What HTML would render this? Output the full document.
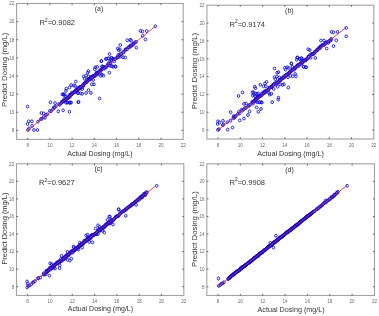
<!DOCTYPE html>
<html><head><meta charset="utf-8"><style>
html,body{margin:0;padding:0;background:#fff;}
svg{display:block;filter:blur(0.3px);}
.lab{font-family:"Liberation Sans",sans-serif;font-size:7px;fill:#333;}
.r2{font-size:7.5px;}
.tk{font-family:"Liberation Sans",sans-serif;font-size:4.6px;fill:#6a6a6a;}
</style></head><body>
<svg width="379" height="316" viewBox="0 0 379 316">
<rect width="379" height="316" fill="#fff"/>
<rect x="16.6" y="3.5" width="166.60" height="135.90" fill="none" stroke="#a2a2a2" stroke-width="1.1"/>
<path d="M27.71 139.4v-1.6M27.71 3.5v1.6M16.6 130.34h1.6M183.2 130.34h-1.6M49.92 139.4v-1.6M49.92 3.5v1.6M16.6 112.22h1.6M183.2 112.22h-1.6M72.13 139.4v-1.6M72.13 3.5v1.6M16.6 94.10h1.6M183.2 94.10h-1.6M94.35 139.4v-1.6M94.35 3.5v1.6M16.6 75.98h1.6M183.2 75.98h-1.6M116.56 139.4v-1.6M116.56 3.5v1.6M16.6 57.86h1.6M183.2 57.86h-1.6M138.77 139.4v-1.6M138.77 3.5v1.6M16.6 39.74h1.6M183.2 39.74h-1.6M160.99 139.4v-1.6M160.99 3.5v1.6M16.6 21.62h1.6M183.2 21.62h-1.6" stroke="#555" stroke-width="0.9" fill="none"/>
<text x="27.71" y="147.00" class="tk" text-anchor="middle">8</text>
<text x="14.30" y="132.14" class="tk" text-anchor="end">8</text>
<text x="49.92" y="147.00" class="tk" text-anchor="middle">10</text>
<text x="14.30" y="114.02" class="tk" text-anchor="end">10</text>
<text x="72.13" y="147.00" class="tk" text-anchor="middle">12</text>
<text x="14.30" y="95.90" class="tk" text-anchor="end">12</text>
<text x="94.35" y="147.00" class="tk" text-anchor="middle">14</text>
<text x="14.30" y="77.78" class="tk" text-anchor="end">14</text>
<text x="116.56" y="147.00" class="tk" text-anchor="middle">16</text>
<text x="14.30" y="59.66" class="tk" text-anchor="end">16</text>
<text x="138.77" y="147.00" class="tk" text-anchor="middle">18</text>
<text x="14.30" y="41.54" class="tk" text-anchor="end">18</text>
<text x="160.99" y="147.00" class="tk" text-anchor="middle">20</text>
<text x="14.30" y="23.42" class="tk" text-anchor="end">20</text>
<text x="183.20" y="147.00" class="tk" text-anchor="middle">22</text>
<text x="14.30" y="5.30" class="tk" text-anchor="end">22</text>
<path d="M26.30 106.60a1.3 1.45 0 1 0 2.6 0a1.3 1.45 0 1 0 -2.6 0M27.40 121.30a1.3 1.45 0 1 0 2.6 0a1.3 1.45 0 1 0 -2.6 0M30.60 121.30a1.3 1.45 0 1 0 2.6 0a1.3 1.45 0 1 0 -2.6 0M26.30 124.00a1.3 1.45 0 1 0 2.6 0a1.3 1.45 0 1 0 -2.6 0M26.60 130.00a1.3 1.45 0 1 0 2.6 0a1.3 1.45 0 1 0 -2.6 0M32.60 130.00a1.3 1.45 0 1 0 2.6 0a1.3 1.45 0 1 0 -2.6 0M36.10 130.00a1.3 1.45 0 1 0 2.6 0a1.3 1.45 0 1 0 -2.6 0M40.10 113.00a1.3 1.45 0 1 0 2.6 0a1.3 1.45 0 1 0 -2.6 0M42.40 113.40a1.3 1.45 0 1 0 2.6 0a1.3 1.45 0 1 0 -2.6 0M43.70 117.70a1.3 1.45 0 1 0 2.6 0a1.3 1.45 0 1 0 -2.6 0M49.10 102.30a1.3 1.45 0 1 0 2.6 0a1.3 1.45 0 1 0 -2.6 0M53.80 103.10a1.3 1.45 0 1 0 2.6 0a1.3 1.45 0 1 0 -2.6 0M51.90 109.00a1.3 1.45 0 1 0 2.6 0a1.3 1.45 0 1 0 -2.6 0M57.00 111.40a1.3 1.45 0 1 0 2.6 0a1.3 1.45 0 1 0 -2.6 0M61.80 110.30a1.3 1.45 0 1 0 2.6 0a1.3 1.45 0 1 0 -2.6 0M68.10 111.80a1.3 1.45 0 1 0 2.6 0a1.3 1.45 0 1 0 -2.6 0M61.10 94.40a1.3 1.45 0 1 0 2.6 0a1.3 1.45 0 1 0 -2.6 0M62.20 94.70a1.3 1.45 0 1 0 2.6 0a1.3 1.45 0 1 0 -2.6 0M64.60 102.70a1.3 1.45 0 1 0 2.6 0a1.3 1.45 0 1 0 -2.6 0M66.20 102.70a1.3 1.45 0 1 0 2.6 0a1.3 1.45 0 1 0 -2.6 0M68.10 102.70a1.3 1.45 0 1 0 2.6 0a1.3 1.45 0 1 0 -2.6 0M69.40 102.70a1.3 1.45 0 1 0 2.6 0a1.3 1.45 0 1 0 -2.6 0M77.30 101.90a1.3 1.45 0 1 0 2.6 0a1.3 1.45 0 1 0 -2.6 0M64.60 90.80a1.3 1.45 0 1 0 2.6 0a1.3 1.45 0 1 0 -2.6 0M74.10 91.60a1.3 1.45 0 1 0 2.6 0a1.3 1.45 0 1 0 -2.6 0M76.50 93.20a1.3 1.45 0 1 0 2.6 0a1.3 1.45 0 1 0 -2.6 0M100.20 61.00a1.3 1.45 0 1 0 2.6 0a1.3 1.45 0 1 0 -2.6 0M104.60 59.00a1.3 1.45 0 1 0 2.6 0a1.3 1.45 0 1 0 -2.6 0M107.00 58.50a1.3 1.45 0 1 0 2.6 0a1.3 1.45 0 1 0 -2.6 0M110.10 57.80a1.3 1.45 0 1 0 2.6 0a1.3 1.45 0 1 0 -2.6 0M110.90 66.40a1.3 1.45 0 1 0 2.6 0a1.3 1.45 0 1 0 -2.6 0M114.10 66.40a1.3 1.45 0 1 0 2.6 0a1.3 1.45 0 1 0 -2.6 0M108.10 72.70a1.3 1.45 0 1 0 2.6 0a1.3 1.45 0 1 0 -2.6 0M100.70 66.40a1.3 1.45 0 1 0 2.6 0a1.3 1.45 0 1 0 -2.6 0M93.80 67.30a1.3 1.45 0 1 0 2.6 0a1.3 1.45 0 1 0 -2.6 0M95.90 66.90a1.3 1.45 0 1 0 2.6 0a1.3 1.45 0 1 0 -2.6 0M93.50 69.20a1.3 1.45 0 1 0 2.6 0a1.3 1.45 0 1 0 -2.6 0M87.20 71.10a1.3 1.45 0 1 0 2.6 0a1.3 1.45 0 1 0 -2.6 0M86.40 72.70a1.3 1.45 0 1 0 2.6 0a1.3 1.45 0 1 0 -2.6 0M100.70 74.80a1.3 1.45 0 1 0 2.6 0a1.3 1.45 0 1 0 -2.6 0M102.20 75.60a1.3 1.45 0 1 0 2.6 0a1.3 1.45 0 1 0 -2.6 0M99.50 75.90a1.3 1.45 0 1 0 2.6 0a1.3 1.45 0 1 0 -2.6 0M82.40 76.40a1.3 1.45 0 1 0 2.6 0a1.3 1.45 0 1 0 -2.6 0M84.80 75.60a1.3 1.45 0 1 0 2.6 0a1.3 1.45 0 1 0 -2.6 0M87.20 76.40a1.3 1.45 0 1 0 2.6 0a1.3 1.45 0 1 0 -2.6 0M83.20 78.70a1.3 1.45 0 1 0 2.6 0a1.3 1.45 0 1 0 -2.6 0M85.60 79.50a1.3 1.45 0 1 0 2.6 0a1.3 1.45 0 1 0 -2.6 0M91.90 80.00a1.3 1.45 0 1 0 2.6 0a1.3 1.45 0 1 0 -2.6 0M74.50 81.60a1.3 1.45 0 1 0 2.6 0a1.3 1.45 0 1 0 -2.6 0M90.40 84.30a1.3 1.45 0 1 0 2.6 0a1.3 1.45 0 1 0 -2.6 0M92.70 84.30a1.3 1.45 0 1 0 2.6 0a1.3 1.45 0 1 0 -2.6 0M69.80 85.10a1.3 1.45 0 1 0 2.6 0a1.3 1.45 0 1 0 -2.6 0M72.20 85.40a1.3 1.45 0 1 0 2.6 0a1.3 1.45 0 1 0 -2.6 0M73.70 85.90a1.3 1.45 0 1 0 2.6 0a1.3 1.45 0 1 0 -2.6 0M65.00 88.70a1.3 1.45 0 1 0 2.6 0a1.3 1.45 0 1 0 -2.6 0M68.20 87.50a1.3 1.45 0 1 0 2.6 0a1.3 1.45 0 1 0 -2.6 0M79.30 87.50a1.3 1.45 0 1 0 2.6 0a1.3 1.45 0 1 0 -2.6 0M80.90 89.00a1.3 1.45 0 1 0 2.6 0a1.3 1.45 0 1 0 -2.6 0M87.20 90.10a1.3 1.45 0 1 0 2.6 0a1.3 1.45 0 1 0 -2.6 0M89.60 93.00a1.3 1.45 0 1 0 2.6 0a1.3 1.45 0 1 0 -2.6 0M84.80 93.00a1.3 1.45 0 1 0 2.6 0a1.3 1.45 0 1 0 -2.6 0M76.90 93.00a1.3 1.45 0 1 0 2.6 0a1.3 1.45 0 1 0 -2.6 0M79.30 93.30a1.3 1.45 0 1 0 2.6 0a1.3 1.45 0 1 0 -2.6 0M80.90 93.80a1.3 1.45 0 1 0 2.6 0a1.3 1.45 0 1 0 -2.6 0M61.90 94.30a1.3 1.45 0 1 0 2.6 0a1.3 1.45 0 1 0 -2.6 0M63.40 94.60a1.3 1.45 0 1 0 2.6 0a1.3 1.45 0 1 0 -2.6 0M98.30 98.50a1.3 1.45 0 1 0 2.6 0a1.3 1.45 0 1 0 -2.6 0M76.90 102.20a1.3 1.45 0 1 0 2.6 0a1.3 1.45 0 1 0 -2.6 0M65.80 102.20a1.3 1.45 0 1 0 2.6 0a1.3 1.45 0 1 0 -2.6 0M68.20 102.50a1.3 1.45 0 1 0 2.6 0a1.3 1.45 0 1 0 -2.6 0M69.80 102.50a1.3 1.45 0 1 0 2.6 0a1.3 1.45 0 1 0 -2.6 0M154.10 26.30a1.3 1.45 0 1 0 2.6 0a1.3 1.45 0 1 0 -2.6 0M139.10 30.80a1.3 1.45 0 1 0 2.6 0a1.3 1.45 0 1 0 -2.6 0M141.10 31.40a1.3 1.45 0 1 0 2.6 0a1.3 1.45 0 1 0 -2.6 0M145.40 31.10a1.3 1.45 0 1 0 2.6 0a1.3 1.45 0 1 0 -2.6 0M141.40 35.80a1.3 1.45 0 1 0 2.6 0a1.3 1.45 0 1 0 -2.6 0M144.10 39.50a1.3 1.45 0 1 0 2.6 0a1.3 1.45 0 1 0 -2.6 0M125.90 40.30a1.3 1.45 0 1 0 2.6 0a1.3 1.45 0 1 0 -2.6 0M128.80 39.80a1.3 1.45 0 1 0 2.6 0a1.3 1.45 0 1 0 -2.6 0M129.90 40.60a1.3 1.45 0 1 0 2.6 0a1.3 1.45 0 1 0 -2.6 0M119.00 45.00a1.3 1.45 0 1 0 2.6 0a1.3 1.45 0 1 0 -2.6 0M129.60 45.30a1.3 1.45 0 1 0 2.6 0a1.3 1.45 0 1 0 -2.6 0M131.90 43.70a1.3 1.45 0 1 0 2.6 0a1.3 1.45 0 1 0 -2.6 0M128.80 46.60a1.3 1.45 0 1 0 2.6 0a1.3 1.45 0 1 0 -2.6 0M135.10 47.70a1.3 1.45 0 1 0 2.6 0a1.3 1.45 0 1 0 -2.6 0M116.40 48.50a1.3 1.45 0 1 0 2.6 0a1.3 1.45 0 1 0 -2.6 0M118.50 49.30a1.3 1.45 0 1 0 2.6 0a1.3 1.45 0 1 0 -2.6 0M117.40 50.10a1.3 1.45 0 1 0 2.6 0a1.3 1.45 0 1 0 -2.6 0M124.00 50.10a1.3 1.45 0 1 0 2.6 0a1.3 1.45 0 1 0 -2.6 0M108.20 54.00a1.3 1.45 0 1 0 2.6 0a1.3 1.45 0 1 0 -2.6 0M119.30 56.40a1.3 1.45 0 1 0 2.6 0a1.3 1.45 0 1 0 -2.6 0M121.70 57.20a1.3 1.45 0 1 0 2.6 0a1.3 1.45 0 1 0 -2.6 0M124.00 57.50a1.3 1.45 0 1 0 2.6 0a1.3 1.45 0 1 0 -2.6 0M105.00 58.80a1.3 1.45 0 1 0 2.6 0a1.3 1.45 0 1 0 -2.6 0M107.40 58.30a1.3 1.45 0 1 0 2.6 0a1.3 1.45 0 1 0 -2.6 0M110.60 58.00a1.3 1.45 0 1 0 2.6 0a1.3 1.45 0 1 0 -2.6 0M100.00 61.20a1.3 1.45 0 1 0 2.6 0a1.3 1.45 0 1 0 -2.6 0M109.80 65.90a1.3 1.45 0 1 0 2.6 0a1.3 1.45 0 1 0 -2.6 0M112.20 66.70a1.3 1.45 0 1 0 2.6 0a1.3 1.45 0 1 0 -2.6 0M114.50 66.70a1.3 1.45 0 1 0 2.6 0a1.3 1.45 0 1 0 -2.6 0M101.10 66.70a1.3 1.45 0 1 0 2.6 0a1.3 1.45 0 1 0 -2.6 0M27.73 128.52a1.3 1.45 0 1 0 2.6 0a1.3 1.45 0 1 0 -2.6 0M30.77 125.88a1.3 1.45 0 1 0 2.6 0a1.3 1.45 0 1 0 -2.6 0M36.73 121.66a1.3 1.45 0 1 0 2.6 0a1.3 1.45 0 1 0 -2.6 0M39.52 119.10a1.3 1.45 0 1 0 2.6 0a1.3 1.45 0 1 0 -2.6 0M40.45 118.78a1.3 1.45 0 1 0 2.6 0a1.3 1.45 0 1 0 -2.6 0M42.30 116.90a1.3 1.45 0 1 0 2.6 0a1.3 1.45 0 1 0 -2.6 0M44.65 114.93a1.3 1.45 0 1 0 2.6 0a1.3 1.45 0 1 0 -2.6 0M46.05 114.28a1.3 1.45 0 1 0 2.6 0a1.3 1.45 0 1 0 -2.6 0M48.52 111.04a1.3 1.45 0 1 0 2.6 0a1.3 1.45 0 1 0 -2.6 0M49.87 111.14a1.3 1.45 0 1 0 2.6 0a1.3 1.45 0 1 0 -2.6 0M52.65 107.20a1.3 1.45 0 1 0 2.6 0a1.3 1.45 0 1 0 -2.6 0M53.20 107.71a1.3 1.45 0 1 0 2.6 0a1.3 1.45 0 1 0 -2.6 0M54.70 106.43a1.3 1.45 0 1 0 2.6 0a1.3 1.45 0 1 0 -2.6 0M57.64 104.08a1.3 1.45 0 1 0 2.6 0a1.3 1.45 0 1 0 -2.6 0M58.29 104.87a1.3 1.45 0 1 0 2.6 0a1.3 1.45 0 1 0 -2.6 0M59.91 103.15a1.3 1.45 0 1 0 2.6 0a1.3 1.45 0 1 0 -2.6 0M60.50 101.93a1.3 1.45 0 1 0 2.6 0a1.3 1.45 0 1 0 -2.6 0M60.83 101.80a1.3 1.45 0 1 0 2.6 0a1.3 1.45 0 1 0 -2.6 0M61.57 101.86a1.3 1.45 0 1 0 2.6 0a1.3 1.45 0 1 0 -2.6 0M62.02 100.65a1.3 1.45 0 1 0 2.6 0a1.3 1.45 0 1 0 -2.6 0M62.45 100.97a1.3 1.45 0 1 0 2.6 0a1.3 1.45 0 1 0 -2.6 0M63.07 98.84a1.3 1.45 0 1 0 2.6 0a1.3 1.45 0 1 0 -2.6 0M63.35 100.63a1.3 1.45 0 1 0 2.6 0a1.3 1.45 0 1 0 -2.6 0M64.16 99.58a1.3 1.45 0 1 0 2.6 0a1.3 1.45 0 1 0 -2.6 0M64.59 99.31a1.3 1.45 0 1 0 2.6 0a1.3 1.45 0 1 0 -2.6 0M64.78 96.70a1.3 1.45 0 1 0 2.6 0a1.3 1.45 0 1 0 -2.6 0M65.43 98.12a1.3 1.45 0 1 0 2.6 0a1.3 1.45 0 1 0 -2.6 0M65.97 98.12a1.3 1.45 0 1 0 2.6 0a1.3 1.45 0 1 0 -2.6 0M66.24 98.09a1.3 1.45 0 1 0 2.6 0a1.3 1.45 0 1 0 -2.6 0M67.01 97.93a1.3 1.45 0 1 0 2.6 0a1.3 1.45 0 1 0 -2.6 0M67.66 96.76a1.3 1.45 0 1 0 2.6 0a1.3 1.45 0 1 0 -2.6 0M68.02 95.00a1.3 1.45 0 1 0 2.6 0a1.3 1.45 0 1 0 -2.6 0M68.51 96.97a1.3 1.45 0 1 0 2.6 0a1.3 1.45 0 1 0 -2.6 0M69.20 94.70a1.3 1.45 0 1 0 2.6 0a1.3 1.45 0 1 0 -2.6 0M69.46 94.99a1.3 1.45 0 1 0 2.6 0a1.3 1.45 0 1 0 -2.6 0M70.07 94.58a1.3 1.45 0 1 0 2.6 0a1.3 1.45 0 1 0 -2.6 0M70.55 92.63a1.3 1.45 0 1 0 2.6 0a1.3 1.45 0 1 0 -2.6 0M70.86 93.77a1.3 1.45 0 1 0 2.6 0a1.3 1.45 0 1 0 -2.6 0M71.41 93.34a1.3 1.45 0 1 0 2.6 0a1.3 1.45 0 1 0 -2.6 0M71.95 92.96a1.3 1.45 0 1 0 2.6 0a1.3 1.45 0 1 0 -2.6 0M72.31 92.35a1.3 1.45 0 1 0 2.6 0a1.3 1.45 0 1 0 -2.6 0M73.11 91.71a1.3 1.45 0 1 0 2.6 0a1.3 1.45 0 1 0 -2.6 0M73.29 91.73a1.3 1.45 0 1 0 2.6 0a1.3 1.45 0 1 0 -2.6 0M74.16 90.31a1.3 1.45 0 1 0 2.6 0a1.3 1.45 0 1 0 -2.6 0M74.26 91.81a1.3 1.45 0 1 0 2.6 0a1.3 1.45 0 1 0 -2.6 0M75.16 89.92a1.3 1.45 0 1 0 2.6 0a1.3 1.45 0 1 0 -2.6 0M75.63 89.44a1.3 1.45 0 1 0 2.6 0a1.3 1.45 0 1 0 -2.6 0M75.93 90.02a1.3 1.45 0 1 0 2.6 0a1.3 1.45 0 1 0 -2.6 0M76.40 87.84a1.3 1.45 0 1 0 2.6 0a1.3 1.45 0 1 0 -2.6 0M76.80 90.09a1.3 1.45 0 1 0 2.6 0a1.3 1.45 0 1 0 -2.6 0M77.31 88.40a1.3 1.45 0 1 0 2.6 0a1.3 1.45 0 1 0 -2.6 0M77.96 87.40a1.3 1.45 0 1 0 2.6 0a1.3 1.45 0 1 0 -2.6 0M78.51 87.48a1.3 1.45 0 1 0 2.6 0a1.3 1.45 0 1 0 -2.6 0M78.93 87.07a1.3 1.45 0 1 0 2.6 0a1.3 1.45 0 1 0 -2.6 0M79.40 88.39a1.3 1.45 0 1 0 2.6 0a1.3 1.45 0 1 0 -2.6 0M80.06 86.93a1.3 1.45 0 1 0 2.6 0a1.3 1.45 0 1 0 -2.6 0M80.48 86.68a1.3 1.45 0 1 0 2.6 0a1.3 1.45 0 1 0 -2.6 0M80.75 86.39a1.3 1.45 0 1 0 2.6 0a1.3 1.45 0 1 0 -2.6 0M81.67 84.62a1.3 1.45 0 1 0 2.6 0a1.3 1.45 0 1 0 -2.6 0M82.12 85.98a1.3 1.45 0 1 0 2.6 0a1.3 1.45 0 1 0 -2.6 0M82.41 84.56a1.3 1.45 0 1 0 2.6 0a1.3 1.45 0 1 0 -2.6 0M83.03 83.58a1.3 1.45 0 1 0 2.6 0a1.3 1.45 0 1 0 -2.6 0M83.25 83.16a1.3 1.45 0 1 0 2.6 0a1.3 1.45 0 1 0 -2.6 0M83.80 82.96a1.3 1.45 0 1 0 2.6 0a1.3 1.45 0 1 0 -2.6 0M84.39 82.67a1.3 1.45 0 1 0 2.6 0a1.3 1.45 0 1 0 -2.6 0M84.79 82.35a1.3 1.45 0 1 0 2.6 0a1.3 1.45 0 1 0 -2.6 0M85.27 82.07a1.3 1.45 0 1 0 2.6 0a1.3 1.45 0 1 0 -2.6 0M86.15 81.12a1.3 1.45 0 1 0 2.6 0a1.3 1.45 0 1 0 -2.6 0M86.52 80.61a1.3 1.45 0 1 0 2.6 0a1.3 1.45 0 1 0 -2.6 0M86.89 80.20a1.3 1.45 0 1 0 2.6 0a1.3 1.45 0 1 0 -2.6 0M87.40 79.22a1.3 1.45 0 1 0 2.6 0a1.3 1.45 0 1 0 -2.6 0M88.21 78.58a1.3 1.45 0 1 0 2.6 0a1.3 1.45 0 1 0 -2.6 0M88.45 79.67a1.3 1.45 0 1 0 2.6 0a1.3 1.45 0 1 0 -2.6 0M88.77 79.08a1.3 1.45 0 1 0 2.6 0a1.3 1.45 0 1 0 -2.6 0M89.39 78.73a1.3 1.45 0 1 0 2.6 0a1.3 1.45 0 1 0 -2.6 0M89.80 76.91a1.3 1.45 0 1 0 2.6 0a1.3 1.45 0 1 0 -2.6 0M90.23 77.07a1.3 1.45 0 1 0 2.6 0a1.3 1.45 0 1 0 -2.6 0M90.79 77.73a1.3 1.45 0 1 0 2.6 0a1.3 1.45 0 1 0 -2.6 0M91.49 76.02a1.3 1.45 0 1 0 2.6 0a1.3 1.45 0 1 0 -2.6 0M92.20 76.16a1.3 1.45 0 1 0 2.6 0a1.3 1.45 0 1 0 -2.6 0M92.65 76.13a1.3 1.45 0 1 0 2.6 0a1.3 1.45 0 1 0 -2.6 0M92.90 76.27a1.3 1.45 0 1 0 2.6 0a1.3 1.45 0 1 0 -2.6 0M93.30 75.29a1.3 1.45 0 1 0 2.6 0a1.3 1.45 0 1 0 -2.6 0M94.10 75.64a1.3 1.45 0 1 0 2.6 0a1.3 1.45 0 1 0 -2.6 0M94.38 74.31a1.3 1.45 0 1 0 2.6 0a1.3 1.45 0 1 0 -2.6 0M95.20 72.55a1.3 1.45 0 1 0 2.6 0a1.3 1.45 0 1 0 -2.6 0M95.64 73.04a1.3 1.45 0 1 0 2.6 0a1.3 1.45 0 1 0 -2.6 0M96.08 74.40a1.3 1.45 0 1 0 2.6 0a1.3 1.45 0 1 0 -2.6 0M96.33 73.62a1.3 1.45 0 1 0 2.6 0a1.3 1.45 0 1 0 -2.6 0M96.73 72.69a1.3 1.45 0 1 0 2.6 0a1.3 1.45 0 1 0 -2.6 0M97.23 72.31a1.3 1.45 0 1 0 2.6 0a1.3 1.45 0 1 0 -2.6 0M98.06 70.98a1.3 1.45 0 1 0 2.6 0a1.3 1.45 0 1 0 -2.6 0M98.69 72.63a1.3 1.45 0 1 0 2.6 0a1.3 1.45 0 1 0 -2.6 0M99.20 70.04a1.3 1.45 0 1 0 2.6 0a1.3 1.45 0 1 0 -2.6 0M99.69 70.54a1.3 1.45 0 1 0 2.6 0a1.3 1.45 0 1 0 -2.6 0M99.89 69.60a1.3 1.45 0 1 0 2.6 0a1.3 1.45 0 1 0 -2.6 0M100.67 69.08a1.3 1.45 0 1 0 2.6 0a1.3 1.45 0 1 0 -2.6 0M102.03 67.20a1.3 1.45 0 1 0 2.6 0a1.3 1.45 0 1 0 -2.6 0M102.78 68.85a1.3 1.45 0 1 0 2.6 0a1.3 1.45 0 1 0 -2.6 0M103.55 66.90a1.3 1.45 0 1 0 2.6 0a1.3 1.45 0 1 0 -2.6 0M103.78 67.82a1.3 1.45 0 1 0 2.6 0a1.3 1.45 0 1 0 -2.6 0M105.13 67.27a1.3 1.45 0 1 0 2.6 0a1.3 1.45 0 1 0 -2.6 0M105.91 65.63a1.3 1.45 0 1 0 2.6 0a1.3 1.45 0 1 0 -2.6 0M106.74 64.38a1.3 1.45 0 1 0 2.6 0a1.3 1.45 0 1 0 -2.6 0M107.17 63.41a1.3 1.45 0 1 0 2.6 0a1.3 1.45 0 1 0 -2.6 0M108.02 65.47a1.3 1.45 0 1 0 2.6 0a1.3 1.45 0 1 0 -2.6 0M108.83 61.51a1.3 1.45 0 1 0 2.6 0a1.3 1.45 0 1 0 -2.6 0M109.44 62.67a1.3 1.45 0 1 0 2.6 0a1.3 1.45 0 1 0 -2.6 0M110.21 60.59a1.3 1.45 0 1 0 2.6 0a1.3 1.45 0 1 0 -2.6 0M111.55 59.08a1.3 1.45 0 1 0 2.6 0a1.3 1.45 0 1 0 -2.6 0M111.82 59.24a1.3 1.45 0 1 0 2.6 0a1.3 1.45 0 1 0 -2.6 0M113.03 61.34a1.3 1.45 0 1 0 2.6 0a1.3 1.45 0 1 0 -2.6 0M113.59 59.28a1.3 1.45 0 1 0 2.6 0a1.3 1.45 0 1 0 -2.6 0M114.12 58.56a1.3 1.45 0 1 0 2.6 0a1.3 1.45 0 1 0 -2.6 0M115.68 57.74a1.3 1.45 0 1 0 2.6 0a1.3 1.45 0 1 0 -2.6 0M116.45 57.33a1.3 1.45 0 1 0 2.6 0a1.3 1.45 0 1 0 -2.6 0M116.85 55.14a1.3 1.45 0 1 0 2.6 0a1.3 1.45 0 1 0 -2.6 0M117.47 56.79a1.3 1.45 0 1 0 2.6 0a1.3 1.45 0 1 0 -2.6 0M118.30 55.18a1.3 1.45 0 1 0 2.6 0a1.3 1.45 0 1 0 -2.6 0M119.37 53.56a1.3 1.45 0 1 0 2.6 0a1.3 1.45 0 1 0 -2.6 0M119.99 53.97a1.3 1.45 0 1 0 2.6 0a1.3 1.45 0 1 0 -2.6 0M121.82 51.96a1.3 1.45 0 1 0 2.6 0a1.3 1.45 0 1 0 -2.6 0M122.32 52.67a1.3 1.45 0 1 0 2.6 0a1.3 1.45 0 1 0 -2.6 0M124.04 50.09a1.3 1.45 0 1 0 2.6 0a1.3 1.45 0 1 0 -2.6 0M124.61 49.12a1.3 1.45 0 1 0 2.6 0a1.3 1.45 0 1 0 -2.6 0M125.85 49.28a1.3 1.45 0 1 0 2.6 0a1.3 1.45 0 1 0 -2.6 0M126.95 47.19a1.3 1.45 0 1 0 2.6 0a1.3 1.45 0 1 0 -2.6 0M127.68 47.27a1.3 1.45 0 1 0 2.6 0a1.3 1.45 0 1 0 -2.6 0M128.59 46.49a1.3 1.45 0 1 0 2.6 0a1.3 1.45 0 1 0 -2.6 0M130.22 45.72a1.3 1.45 0 1 0 2.6 0a1.3 1.45 0 1 0 -2.6 0M131.61 44.76a1.3 1.45 0 1 0 2.6 0a1.3 1.45 0 1 0 -2.6 0M132.50 43.66a1.3 1.45 0 1 0 2.6 0a1.3 1.45 0 1 0 -2.6 0M133.65 42.43a1.3 1.45 0 1 0 2.6 0a1.3 1.45 0 1 0 -2.6 0M134.76 41.92a1.3 1.45 0 1 0 2.6 0a1.3 1.45 0 1 0 -2.6 0" stroke="#0a0ad8" stroke-width="0.85" fill="none"/>
<line x1="27.71" y1="130.34" x2="155.43" y2="26.15" stroke="#e41e46" stroke-width="0.85"/>
<rect x="206.9" y="5.2" width="166.90" height="133.80" fill="none" stroke="#a2a2a2" stroke-width="1.1"/>
<path d="M218.03 139.0v-1.6M218.03 5.2v1.6M206.9 130.08h1.6M373.8 130.08h-1.6M240.28 139.0v-1.6M240.28 5.2v1.6M206.9 112.24h1.6M373.8 112.24h-1.6M262.53 139.0v-1.6M262.53 5.2v1.6M206.9 94.40h1.6M373.8 94.40h-1.6M284.79 139.0v-1.6M284.79 5.2v1.6M206.9 76.56h1.6M373.8 76.56h-1.6M307.04 139.0v-1.6M307.04 5.2v1.6M206.9 58.72h1.6M373.8 58.72h-1.6M329.29 139.0v-1.6M329.29 5.2v1.6M206.9 40.88h1.6M373.8 40.88h-1.6M351.55 139.0v-1.6M351.55 5.2v1.6M206.9 23.04h1.6M373.8 23.04h-1.6" stroke="#555" stroke-width="0.9" fill="none"/>
<text x="218.03" y="146.60" class="tk" text-anchor="middle">8</text>
<text x="204.60" y="131.88" class="tk" text-anchor="end">8</text>
<text x="240.28" y="146.60" class="tk" text-anchor="middle">10</text>
<text x="204.60" y="114.04" class="tk" text-anchor="end">10</text>
<text x="262.53" y="146.60" class="tk" text-anchor="middle">12</text>
<text x="204.60" y="96.20" class="tk" text-anchor="end">12</text>
<text x="284.79" y="146.60" class="tk" text-anchor="middle">14</text>
<text x="204.60" y="78.36" class="tk" text-anchor="end">14</text>
<text x="307.04" y="146.60" class="tk" text-anchor="middle">16</text>
<text x="204.60" y="60.52" class="tk" text-anchor="end">16</text>
<text x="329.29" y="146.60" class="tk" text-anchor="middle">18</text>
<text x="204.60" y="42.68" class="tk" text-anchor="end">18</text>
<text x="351.55" y="146.60" class="tk" text-anchor="middle">20</text>
<text x="204.60" y="24.84" class="tk" text-anchor="end">20</text>
<text x="373.80" y="146.60" class="tk" text-anchor="middle">22</text>
<text x="204.60" y="7.00" class="tk" text-anchor="end">22</text>
<path d="M241.20 92.40a1.3 1.45 0 1 0 2.6 0a1.3 1.45 0 1 0 -2.6 0M237.20 96.00a1.3 1.45 0 1 0 2.6 0a1.3 1.45 0 1 0 -2.6 0M252.20 92.40a1.3 1.45 0 1 0 2.6 0a1.3 1.45 0 1 0 -2.6 0M254.60 93.50a1.3 1.45 0 1 0 2.6 0a1.3 1.45 0 1 0 -2.6 0M257.00 93.50a1.3 1.45 0 1 0 2.6 0a1.3 1.45 0 1 0 -2.6 0M251.40 95.50a1.3 1.45 0 1 0 2.6 0a1.3 1.45 0 1 0 -2.6 0M253.80 96.30a1.3 1.45 0 1 0 2.6 0a1.3 1.45 0 1 0 -2.6 0M256.20 97.10a1.3 1.45 0 1 0 2.6 0a1.3 1.45 0 1 0 -2.6 0M264.10 92.40a1.3 1.45 0 1 0 2.6 0a1.3 1.45 0 1 0 -2.6 0M242.70 103.90a1.3 1.45 0 1 0 2.6 0a1.3 1.45 0 1 0 -2.6 0M244.80 103.50a1.3 1.45 0 1 0 2.6 0a1.3 1.45 0 1 0 -2.6 0M256.20 102.30a1.3 1.45 0 1 0 2.6 0a1.3 1.45 0 1 0 -2.6 0M258.60 102.30a1.3 1.45 0 1 0 2.6 0a1.3 1.45 0 1 0 -2.6 0M260.10 102.30a1.3 1.45 0 1 0 2.6 0a1.3 1.45 0 1 0 -2.6 0M255.40 107.40a1.3 1.45 0 1 0 2.6 0a1.3 1.45 0 1 0 -2.6 0M259.70 109.00a1.3 1.45 0 1 0 2.6 0a1.3 1.45 0 1 0 -2.6 0M257.00 111.80a1.3 1.45 0 1 0 2.6 0a1.3 1.45 0 1 0 -2.6 0M248.30 111.40a1.3 1.45 0 1 0 2.6 0a1.3 1.45 0 1 0 -2.6 0M246.70 115.00a1.3 1.45 0 1 0 2.6 0a1.3 1.45 0 1 0 -2.6 0M229.30 112.20a1.3 1.45 0 1 0 2.6 0a1.3 1.45 0 1 0 -2.6 0M232.40 116.10a1.3 1.45 0 1 0 2.6 0a1.3 1.45 0 1 0 -2.6 0M233.20 117.70a1.3 1.45 0 1 0 2.6 0a1.3 1.45 0 1 0 -2.6 0M242.70 118.50a1.3 1.45 0 1 0 2.6 0a1.3 1.45 0 1 0 -2.6 0M238.50 120.40a1.3 1.45 0 1 0 2.6 0a1.3 1.45 0 1 0 -2.6 0M216.60 121.30a1.3 1.45 0 1 0 2.6 0a1.3 1.45 0 1 0 -2.6 0M218.20 122.50a1.3 1.45 0 1 0 2.6 0a1.3 1.45 0 1 0 -2.6 0M216.30 124.00a1.3 1.45 0 1 0 2.6 0a1.3 1.45 0 1 0 -2.6 0M221.70 120.90a1.3 1.45 0 1 0 2.6 0a1.3 1.45 0 1 0 -2.6 0M221.40 125.10a1.3 1.45 0 1 0 2.6 0a1.3 1.45 0 1 0 -2.6 0M216.60 129.90a1.3 1.45 0 1 0 2.6 0a1.3 1.45 0 1 0 -2.6 0M226.40 129.60a1.3 1.45 0 1 0 2.6 0a1.3 1.45 0 1 0 -2.6 0M231.30 127.50a1.3 1.45 0 1 0 2.6 0a1.3 1.45 0 1 0 -2.6 0M296.20 57.40a1.3 1.45 0 1 0 2.6 0a1.3 1.45 0 1 0 -2.6 0M298.60 59.00a1.3 1.45 0 1 0 2.6 0a1.3 1.45 0 1 0 -2.6 0M295.40 59.70a1.3 1.45 0 1 0 2.6 0a1.3 1.45 0 1 0 -2.6 0M300.10 58.20a1.3 1.45 0 1 0 2.6 0a1.3 1.45 0 1 0 -2.6 0M290.20 63.70a1.3 1.45 0 1 0 2.6 0a1.3 1.45 0 1 0 -2.6 0M302.50 66.90a1.3 1.45 0 1 0 2.6 0a1.3 1.45 0 1 0 -2.6 0M304.90 67.30a1.3 1.45 0 1 0 2.6 0a1.3 1.45 0 1 0 -2.6 0M273.20 68.50a1.3 1.45 0 1 0 2.6 0a1.3 1.45 0 1 0 -2.6 0M283.50 67.70a1.3 1.45 0 1 0 2.6 0a1.3 1.45 0 1 0 -2.6 0M285.90 67.30a1.3 1.45 0 1 0 2.6 0a1.3 1.45 0 1 0 -2.6 0M287.50 68.00a1.3 1.45 0 1 0 2.6 0a1.3 1.45 0 1 0 -2.6 0M284.30 69.60a1.3 1.45 0 1 0 2.6 0a1.3 1.45 0 1 0 -2.6 0M291.10 66.90a1.3 1.45 0 1 0 2.6 0a1.3 1.45 0 1 0 -2.6 0M277.20 72.10a1.3 1.45 0 1 0 2.6 0a1.3 1.45 0 1 0 -2.6 0M275.90 72.70a1.3 1.45 0 1 0 2.6 0a1.3 1.45 0 1 0 -2.6 0M289.10 75.60a1.3 1.45 0 1 0 2.6 0a1.3 1.45 0 1 0 -2.6 0M291.40 76.40a1.3 1.45 0 1 0 2.6 0a1.3 1.45 0 1 0 -2.6 0M293.80 74.00a1.3 1.45 0 1 0 2.6 0a1.3 1.45 0 1 0 -2.6 0M294.60 76.40a1.3 1.45 0 1 0 2.6 0a1.3 1.45 0 1 0 -2.6 0M273.20 77.20a1.3 1.45 0 1 0 2.6 0a1.3 1.45 0 1 0 -2.6 0M275.60 76.40a1.3 1.45 0 1 0 2.6 0a1.3 1.45 0 1 0 -2.6 0M278.00 77.50a1.3 1.45 0 1 0 2.6 0a1.3 1.45 0 1 0 -2.6 0M274.00 79.10a1.3 1.45 0 1 0 2.6 0a1.3 1.45 0 1 0 -2.6 0M286.70 77.20a1.3 1.45 0 1 0 2.6 0a1.3 1.45 0 1 0 -2.6 0M265.30 81.90a1.3 1.45 0 1 0 2.6 0a1.3 1.45 0 1 0 -2.6 0M263.70 83.50a1.3 1.45 0 1 0 2.6 0a1.3 1.45 0 1 0 -2.6 0M259.00 84.80a1.3 1.45 0 1 0 2.6 0a1.3 1.45 0 1 0 -2.6 0M262.20 86.30a1.3 1.45 0 1 0 2.6 0a1.3 1.45 0 1 0 -2.6 0M264.50 86.30a1.3 1.45 0 1 0 2.6 0a1.3 1.45 0 1 0 -2.6 0M278.80 84.30a1.3 1.45 0 1 0 2.6 0a1.3 1.45 0 1 0 -2.6 0M281.20 84.80a1.3 1.45 0 1 0 2.6 0a1.3 1.45 0 1 0 -2.6 0M282.70 84.30a1.3 1.45 0 1 0 2.6 0a1.3 1.45 0 1 0 -2.6 0M276.40 86.70a1.3 1.45 0 1 0 2.6 0a1.3 1.45 0 1 0 -2.6 0M287.00 87.50a1.3 1.45 0 1 0 2.6 0a1.3 1.45 0 1 0 -2.6 0M253.40 86.70a1.3 1.45 0 1 0 2.6 0a1.3 1.45 0 1 0 -2.6 0M254.20 88.20a1.3 1.45 0 1 0 2.6 0a1.3 1.45 0 1 0 -2.6 0M267.70 93.00a1.3 1.45 0 1 0 2.6 0a1.3 1.45 0 1 0 -2.6 0M270.10 93.80a1.3 1.45 0 1 0 2.6 0a1.3 1.45 0 1 0 -2.6 0M268.50 94.60a1.3 1.45 0 1 0 2.6 0a1.3 1.45 0 1 0 -2.6 0M272.40 89.00a1.3 1.45 0 1 0 2.6 0a1.3 1.45 0 1 0 -2.6 0M251.10 92.20a1.3 1.45 0 1 0 2.6 0a1.3 1.45 0 1 0 -2.6 0M252.70 94.60a1.3 1.45 0 1 0 2.6 0a1.3 1.45 0 1 0 -2.6 0M255.80 94.30a1.3 1.45 0 1 0 2.6 0a1.3 1.45 0 1 0 -2.6 0M277.20 97.70a1.3 1.45 0 1 0 2.6 0a1.3 1.45 0 1 0 -2.6 0M276.90 99.60a1.3 1.45 0 1 0 2.6 0a1.3 1.45 0 1 0 -2.6 0M270.90 102.20a1.3 1.45 0 1 0 2.6 0a1.3 1.45 0 1 0 -2.6 0M255.00 101.70a1.3 1.45 0 1 0 2.6 0a1.3 1.45 0 1 0 -2.6 0M258.20 102.20a1.3 1.45 0 1 0 2.6 0a1.3 1.45 0 1 0 -2.6 0M260.60 102.50a1.3 1.45 0 1 0 2.6 0a1.3 1.45 0 1 0 -2.6 0M344.90 27.90a1.3 1.45 0 1 0 2.6 0a1.3 1.45 0 1 0 -2.6 0M330.20 31.90a1.3 1.45 0 1 0 2.6 0a1.3 1.45 0 1 0 -2.6 0M332.20 32.30a1.3 1.45 0 1 0 2.6 0a1.3 1.45 0 1 0 -2.6 0M336.20 31.90a1.3 1.45 0 1 0 2.6 0a1.3 1.45 0 1 0 -2.6 0M344.90 36.30a1.3 1.45 0 1 0 2.6 0a1.3 1.45 0 1 0 -2.6 0M329.90 39.30a1.3 1.45 0 1 0 2.6 0a1.3 1.45 0 1 0 -2.6 0M334.90 40.30a1.3 1.45 0 1 0 2.6 0a1.3 1.45 0 1 0 -2.6 0M319.60 40.60a1.3 1.45 0 1 0 2.6 0a1.3 1.45 0 1 0 -2.6 0M322.70 40.60a1.3 1.45 0 1 0 2.6 0a1.3 1.45 0 1 0 -2.6 0M332.20 46.10a1.3 1.45 0 1 0 2.6 0a1.3 1.45 0 1 0 -2.6 0M325.40 48.50a1.3 1.45 0 1 0 2.6 0a1.3 1.45 0 1 0 -2.6 0M321.20 45.30a1.3 1.45 0 1 0 2.6 0a1.3 1.45 0 1 0 -2.6 0M318.80 46.90a1.3 1.45 0 1 0 2.6 0a1.3 1.45 0 1 0 -2.6 0M317.20 48.50a1.3 1.45 0 1 0 2.6 0a1.3 1.45 0 1 0 -2.6 0M306.90 49.30a1.3 1.45 0 1 0 2.6 0a1.3 1.45 0 1 0 -2.6 0M308.50 50.10a1.3 1.45 0 1 0 2.6 0a1.3 1.45 0 1 0 -2.6 0M310.90 54.00a1.3 1.45 0 1 0 2.6 0a1.3 1.45 0 1 0 -2.6 0M313.20 52.50a1.3 1.45 0 1 0 2.6 0a1.3 1.45 0 1 0 -2.6 0M309.30 57.70a1.3 1.45 0 1 0 2.6 0a1.3 1.45 0 1 0 -2.6 0M314.00 58.00a1.3 1.45 0 1 0 2.6 0a1.3 1.45 0 1 0 -2.6 0M295.80 57.70a1.3 1.45 0 1 0 2.6 0a1.3 1.45 0 1 0 -2.6 0M298.20 58.80a1.3 1.45 0 1 0 2.6 0a1.3 1.45 0 1 0 -2.6 0M300.60 58.50a1.3 1.45 0 1 0 2.6 0a1.3 1.45 0 1 0 -2.6 0M290.00 63.50a1.3 1.45 0 1 0 2.6 0a1.3 1.45 0 1 0 -2.6 0M302.20 66.70a1.3 1.45 0 1 0 2.6 0a1.3 1.45 0 1 0 -2.6 0M304.50 67.20a1.3 1.45 0 1 0 2.6 0a1.3 1.45 0 1 0 -2.6 0M217.63 129.13a1.3 1.45 0 1 0 2.6 0a1.3 1.45 0 1 0 -2.6 0M222.18 124.60a1.3 1.45 0 1 0 2.6 0a1.3 1.45 0 1 0 -2.6 0M225.99 122.23a1.3 1.45 0 1 0 2.6 0a1.3 1.45 0 1 0 -2.6 0M229.18 120.72a1.3 1.45 0 1 0 2.6 0a1.3 1.45 0 1 0 -2.6 0M232.02 118.21a1.3 1.45 0 1 0 2.6 0a1.3 1.45 0 1 0 -2.6 0M233.48 116.32a1.3 1.45 0 1 0 2.6 0a1.3 1.45 0 1 0 -2.6 0M234.50 116.17a1.3 1.45 0 1 0 2.6 0a1.3 1.45 0 1 0 -2.6 0M236.52 114.01a1.3 1.45 0 1 0 2.6 0a1.3 1.45 0 1 0 -2.6 0M237.54 111.97a1.3 1.45 0 1 0 2.6 0a1.3 1.45 0 1 0 -2.6 0M238.30 113.47a1.3 1.45 0 1 0 2.6 0a1.3 1.45 0 1 0 -2.6 0M240.05 109.90a1.3 1.45 0 1 0 2.6 0a1.3 1.45 0 1 0 -2.6 0M240.83 110.81a1.3 1.45 0 1 0 2.6 0a1.3 1.45 0 1 0 -2.6 0M242.16 109.56a1.3 1.45 0 1 0 2.6 0a1.3 1.45 0 1 0 -2.6 0M243.68 108.03a1.3 1.45 0 1 0 2.6 0a1.3 1.45 0 1 0 -2.6 0M244.80 107.75a1.3 1.45 0 1 0 2.6 0a1.3 1.45 0 1 0 -2.6 0M247.27 106.20a1.3 1.45 0 1 0 2.6 0a1.3 1.45 0 1 0 -2.6 0M247.61 105.16a1.3 1.45 0 1 0 2.6 0a1.3 1.45 0 1 0 -2.6 0M248.95 104.79a1.3 1.45 0 1 0 2.6 0a1.3 1.45 0 1 0 -2.6 0M250.67 102.08a1.3 1.45 0 1 0 2.6 0a1.3 1.45 0 1 0 -2.6 0M251.36 102.05a1.3 1.45 0 1 0 2.6 0a1.3 1.45 0 1 0 -2.6 0M251.65 103.61a1.3 1.45 0 1 0 2.6 0a1.3 1.45 0 1 0 -2.6 0M252.57 100.84a1.3 1.45 0 1 0 2.6 0a1.3 1.45 0 1 0 -2.6 0M252.78 101.50a1.3 1.45 0 1 0 2.6 0a1.3 1.45 0 1 0 -2.6 0M253.54 99.90a1.3 1.45 0 1 0 2.6 0a1.3 1.45 0 1 0 -2.6 0M254.09 100.19a1.3 1.45 0 1 0 2.6 0a1.3 1.45 0 1 0 -2.6 0M254.62 98.44a1.3 1.45 0 1 0 2.6 0a1.3 1.45 0 1 0 -2.6 0M255.61 98.67a1.3 1.45 0 1 0 2.6 0a1.3 1.45 0 1 0 -2.6 0M256.11 98.11a1.3 1.45 0 1 0 2.6 0a1.3 1.45 0 1 0 -2.6 0M256.94 97.71a1.3 1.45 0 1 0 2.6 0a1.3 1.45 0 1 0 -2.6 0M257.81 96.80a1.3 1.45 0 1 0 2.6 0a1.3 1.45 0 1 0 -2.6 0M258.33 96.08a1.3 1.45 0 1 0 2.6 0a1.3 1.45 0 1 0 -2.6 0M258.63 96.18a1.3 1.45 0 1 0 2.6 0a1.3 1.45 0 1 0 -2.6 0M259.13 95.64a1.3 1.45 0 1 0 2.6 0a1.3 1.45 0 1 0 -2.6 0M259.83 95.65a1.3 1.45 0 1 0 2.6 0a1.3 1.45 0 1 0 -2.6 0M260.66 93.52a1.3 1.45 0 1 0 2.6 0a1.3 1.45 0 1 0 -2.6 0M261.20 94.68a1.3 1.45 0 1 0 2.6 0a1.3 1.45 0 1 0 -2.6 0M261.77 92.90a1.3 1.45 0 1 0 2.6 0a1.3 1.45 0 1 0 -2.6 0M262.77 93.20a1.3 1.45 0 1 0 2.6 0a1.3 1.45 0 1 0 -2.6 0M263.02 91.72a1.3 1.45 0 1 0 2.6 0a1.3 1.45 0 1 0 -2.6 0M263.88 91.58a1.3 1.45 0 1 0 2.6 0a1.3 1.45 0 1 0 -2.6 0M264.30 90.77a1.3 1.45 0 1 0 2.6 0a1.3 1.45 0 1 0 -2.6 0M265.41 91.03a1.3 1.45 0 1 0 2.6 0a1.3 1.45 0 1 0 -2.6 0M265.59 90.41a1.3 1.45 0 1 0 2.6 0a1.3 1.45 0 1 0 -2.6 0M266.73 89.82a1.3 1.45 0 1 0 2.6 0a1.3 1.45 0 1 0 -2.6 0M267.11 89.75a1.3 1.45 0 1 0 2.6 0a1.3 1.45 0 1 0 -2.6 0M268.06 87.90a1.3 1.45 0 1 0 2.6 0a1.3 1.45 0 1 0 -2.6 0M268.28 87.87a1.3 1.45 0 1 0 2.6 0a1.3 1.45 0 1 0 -2.6 0M268.90 87.34a1.3 1.45 0 1 0 2.6 0a1.3 1.45 0 1 0 -2.6 0M269.46 87.34a1.3 1.45 0 1 0 2.6 0a1.3 1.45 0 1 0 -2.6 0M270.17 86.71a1.3 1.45 0 1 0 2.6 0a1.3 1.45 0 1 0 -2.6 0M270.88 86.67a1.3 1.45 0 1 0 2.6 0a1.3 1.45 0 1 0 -2.6 0M271.51 84.81a1.3 1.45 0 1 0 2.6 0a1.3 1.45 0 1 0 -2.6 0M272.29 84.93a1.3 1.45 0 1 0 2.6 0a1.3 1.45 0 1 0 -2.6 0M272.62 84.40a1.3 1.45 0 1 0 2.6 0a1.3 1.45 0 1 0 -2.6 0M273.41 83.27a1.3 1.45 0 1 0 2.6 0a1.3 1.45 0 1 0 -2.6 0M274.25 83.51a1.3 1.45 0 1 0 2.6 0a1.3 1.45 0 1 0 -2.6 0M274.66 84.72a1.3 1.45 0 1 0 2.6 0a1.3 1.45 0 1 0 -2.6 0M275.25 82.58a1.3 1.45 0 1 0 2.6 0a1.3 1.45 0 1 0 -2.6 0M276.35 82.59a1.3 1.45 0 1 0 2.6 0a1.3 1.45 0 1 0 -2.6 0M277.00 81.10a1.3 1.45 0 1 0 2.6 0a1.3 1.45 0 1 0 -2.6 0M277.36 82.07a1.3 1.45 0 1 0 2.6 0a1.3 1.45 0 1 0 -2.6 0M278.38 80.34a1.3 1.45 0 1 0 2.6 0a1.3 1.45 0 1 0 -2.6 0M278.61 79.63a1.3 1.45 0 1 0 2.6 0a1.3 1.45 0 1 0 -2.6 0M279.44 80.29a1.3 1.45 0 1 0 2.6 0a1.3 1.45 0 1 0 -2.6 0M279.94 79.17a1.3 1.45 0 1 0 2.6 0a1.3 1.45 0 1 0 -2.6 0M280.41 78.50a1.3 1.45 0 1 0 2.6 0a1.3 1.45 0 1 0 -2.6 0M281.01 78.22a1.3 1.45 0 1 0 2.6 0a1.3 1.45 0 1 0 -2.6 0M281.71 78.10a1.3 1.45 0 1 0 2.6 0a1.3 1.45 0 1 0 -2.6 0M282.30 76.47a1.3 1.45 0 1 0 2.6 0a1.3 1.45 0 1 0 -2.6 0M283.32 77.39a1.3 1.45 0 1 0 2.6 0a1.3 1.45 0 1 0 -2.6 0M283.72 75.99a1.3 1.45 0 1 0 2.6 0a1.3 1.45 0 1 0 -2.6 0M284.47 74.89a1.3 1.45 0 1 0 2.6 0a1.3 1.45 0 1 0 -2.6 0M284.92 75.51a1.3 1.45 0 1 0 2.6 0a1.3 1.45 0 1 0 -2.6 0M286.08 73.96a1.3 1.45 0 1 0 2.6 0a1.3 1.45 0 1 0 -2.6 0M286.73 74.05a1.3 1.45 0 1 0 2.6 0a1.3 1.45 0 1 0 -2.6 0M287.37 73.23a1.3 1.45 0 1 0 2.6 0a1.3 1.45 0 1 0 -2.6 0M287.59 72.93a1.3 1.45 0 1 0 2.6 0a1.3 1.45 0 1 0 -2.6 0M288.28 72.34a1.3 1.45 0 1 0 2.6 0a1.3 1.45 0 1 0 -2.6 0M288.98 72.21a1.3 1.45 0 1 0 2.6 0a1.3 1.45 0 1 0 -2.6 0M289.65 71.27a1.3 1.45 0 1 0 2.6 0a1.3 1.45 0 1 0 -2.6 0M289.97 71.03a1.3 1.45 0 1 0 2.6 0a1.3 1.45 0 1 0 -2.6 0M290.86 70.02a1.3 1.45 0 1 0 2.6 0a1.3 1.45 0 1 0 -2.6 0M291.28 69.43a1.3 1.45 0 1 0 2.6 0a1.3 1.45 0 1 0 -2.6 0M292.04 69.27a1.3 1.45 0 1 0 2.6 0a1.3 1.45 0 1 0 -2.6 0M292.91 69.67a1.3 1.45 0 1 0 2.6 0a1.3 1.45 0 1 0 -2.6 0M293.60 68.28a1.3 1.45 0 1 0 2.6 0a1.3 1.45 0 1 0 -2.6 0M294.28 67.10a1.3 1.45 0 1 0 2.6 0a1.3 1.45 0 1 0 -2.6 0M294.67 67.66a1.3 1.45 0 1 0 2.6 0a1.3 1.45 0 1 0 -2.6 0M295.74 65.79a1.3 1.45 0 1 0 2.6 0a1.3 1.45 0 1 0 -2.6 0M296.16 65.23a1.3 1.45 0 1 0 2.6 0a1.3 1.45 0 1 0 -2.6 0M296.42 65.16a1.3 1.45 0 1 0 2.6 0a1.3 1.45 0 1 0 -2.6 0M297.44 66.15a1.3 1.45 0 1 0 2.6 0a1.3 1.45 0 1 0 -2.6 0M298.15 64.32a1.3 1.45 0 1 0 2.6 0a1.3 1.45 0 1 0 -2.6 0M298.66 64.36a1.3 1.45 0 1 0 2.6 0a1.3 1.45 0 1 0 -2.6 0M299.29 62.96a1.3 1.45 0 1 0 2.6 0a1.3 1.45 0 1 0 -2.6 0M300.14 63.82a1.3 1.45 0 1 0 2.6 0a1.3 1.45 0 1 0 -2.6 0M300.63 61.72a1.3 1.45 0 1 0 2.6 0a1.3 1.45 0 1 0 -2.6 0M301.34 62.48a1.3 1.45 0 1 0 2.6 0a1.3 1.45 0 1 0 -2.6 0M301.68 61.29a1.3 1.45 0 1 0 2.6 0a1.3 1.45 0 1 0 -2.6 0M302.41 60.97a1.3 1.45 0 1 0 2.6 0a1.3 1.45 0 1 0 -2.6 0M302.89 60.24a1.3 1.45 0 1 0 2.6 0a1.3 1.45 0 1 0 -2.6 0M303.87 60.55a1.3 1.45 0 1 0 2.6 0a1.3 1.45 0 1 0 -2.6 0M304.51 59.65a1.3 1.45 0 1 0 2.6 0a1.3 1.45 0 1 0 -2.6 0M304.75 59.81a1.3 1.45 0 1 0 2.6 0a1.3 1.45 0 1 0 -2.6 0M305.91 58.24a1.3 1.45 0 1 0 2.6 0a1.3 1.45 0 1 0 -2.6 0M306.38 58.59a1.3 1.45 0 1 0 2.6 0a1.3 1.45 0 1 0 -2.6 0M307.10 56.34a1.3 1.45 0 1 0 2.6 0a1.3 1.45 0 1 0 -2.6 0M307.48 56.55a1.3 1.45 0 1 0 2.6 0a1.3 1.45 0 1 0 -2.6 0M308.03 56.63a1.3 1.45 0 1 0 2.6 0a1.3 1.45 0 1 0 -2.6 0M309.00 54.75a1.3 1.45 0 1 0 2.6 0a1.3 1.45 0 1 0 -2.6 0M310.31 53.98a1.3 1.45 0 1 0 2.6 0a1.3 1.45 0 1 0 -2.6 0M310.86 54.37a1.3 1.45 0 1 0 2.6 0a1.3 1.45 0 1 0 -2.6 0M311.80 53.94a1.3 1.45 0 1 0 2.6 0a1.3 1.45 0 1 0 -2.6 0M312.77 53.70a1.3 1.45 0 1 0 2.6 0a1.3 1.45 0 1 0 -2.6 0M313.65 51.71a1.3 1.45 0 1 0 2.6 0a1.3 1.45 0 1 0 -2.6 0M314.17 51.44a1.3 1.45 0 1 0 2.6 0a1.3 1.45 0 1 0 -2.6 0M315.45 50.85a1.3 1.45 0 1 0 2.6 0a1.3 1.45 0 1 0 -2.6 0M315.68 49.63a1.3 1.45 0 1 0 2.6 0a1.3 1.45 0 1 0 -2.6 0M316.58 49.79a1.3 1.45 0 1 0 2.6 0a1.3 1.45 0 1 0 -2.6 0M317.97 47.63a1.3 1.45 0 1 0 2.6 0a1.3 1.45 0 1 0 -2.6 0M318.81 48.07a1.3 1.45 0 1 0 2.6 0a1.3 1.45 0 1 0 -2.6 0M319.49 46.61a1.3 1.45 0 1 0 2.6 0a1.3 1.45 0 1 0 -2.6 0M320.35 45.68a1.3 1.45 0 1 0 2.6 0a1.3 1.45 0 1 0 -2.6 0M320.97 45.25a1.3 1.45 0 1 0 2.6 0a1.3 1.45 0 1 0 -2.6 0M322.50 44.82a1.3 1.45 0 1 0 2.6 0a1.3 1.45 0 1 0 -2.6 0M322.91 44.65a1.3 1.45 0 1 0 2.6 0a1.3 1.45 0 1 0 -2.6 0M324.07 43.00a1.3 1.45 0 1 0 2.6 0a1.3 1.45 0 1 0 -2.6 0M324.46 43.49a1.3 1.45 0 1 0 2.6 0a1.3 1.45 0 1 0 -2.6 0M325.26 42.31a1.3 1.45 0 1 0 2.6 0a1.3 1.45 0 1 0 -2.6 0M326.44 41.91a1.3 1.45 0 1 0 2.6 0a1.3 1.45 0 1 0 -2.6 0M326.92 42.91a1.3 1.45 0 1 0 2.6 0a1.3 1.45 0 1 0 -2.6 0M327.76 40.94a1.3 1.45 0 1 0 2.6 0a1.3 1.45 0 1 0 -2.6 0M329.21 40.85a1.3 1.45 0 1 0 2.6 0a1.3 1.45 0 1 0 -2.6 0M329.96 39.01a1.3 1.45 0 1 0 2.6 0a1.3 1.45 0 1 0 -2.6 0" stroke="#0a0ad8" stroke-width="0.85" fill="none"/>
<line x1="218.03" y1="130.08" x2="345.98" y2="27.50" stroke="#e41e46" stroke-width="0.85"/>
<rect x="16.5" y="163.8" width="167.30" height="131.70" fill="none" stroke="#a2a2a2" stroke-width="1.1"/>
<path d="M27.65 295.5v-1.6M27.65 163.8v1.6M16.5 286.72h1.6M183.8 286.72h-1.6M49.96 295.5v-1.6M49.96 163.8v1.6M16.5 269.16h1.6M183.8 269.16h-1.6M72.27 295.5v-1.6M72.27 163.8v1.6M16.5 251.60h1.6M183.8 251.60h-1.6M94.57 295.5v-1.6M94.57 163.8v1.6M16.5 234.04h1.6M183.8 234.04h-1.6M116.88 295.5v-1.6M116.88 163.8v1.6M16.5 216.48h1.6M183.8 216.48h-1.6M139.19 295.5v-1.6M139.19 163.8v1.6M16.5 198.92h1.6M183.8 198.92h-1.6M161.49 295.5v-1.6M161.49 163.8v1.6M16.5 181.36h1.6M183.8 181.36h-1.6" stroke="#555" stroke-width="0.9" fill="none"/>
<text x="27.65" y="303.10" class="tk" text-anchor="middle">8</text>
<text x="14.20" y="288.52" class="tk" text-anchor="end">8</text>
<text x="49.96" y="303.10" class="tk" text-anchor="middle">10</text>
<text x="14.20" y="270.96" class="tk" text-anchor="end">10</text>
<text x="72.27" y="303.10" class="tk" text-anchor="middle">12</text>
<text x="14.20" y="253.40" class="tk" text-anchor="end">12</text>
<text x="94.57" y="303.10" class="tk" text-anchor="middle">14</text>
<text x="14.20" y="235.84" class="tk" text-anchor="end">14</text>
<text x="116.88" y="303.10" class="tk" text-anchor="middle">16</text>
<text x="14.20" y="218.28" class="tk" text-anchor="end">16</text>
<text x="139.19" y="303.10" class="tk" text-anchor="middle">18</text>
<text x="14.20" y="200.72" class="tk" text-anchor="end">18</text>
<text x="161.49" y="303.10" class="tk" text-anchor="middle">20</text>
<text x="14.20" y="183.16" class="tk" text-anchor="end">20</text>
<text x="183.80" y="303.10" class="tk" text-anchor="middle">22</text>
<text x="14.20" y="165.60" class="tk" text-anchor="end">22</text>
<path d="M25.80 281.50a1.3 1.45 0 1 0 2.6 0a1.3 1.45 0 1 0 -2.6 0M26.30 283.50a1.3 1.45 0 1 0 2.6 0a1.3 1.45 0 1 0 -2.6 0M25.80 287.50a1.3 1.45 0 1 0 2.6 0a1.3 1.45 0 1 0 -2.6 0M31.40 282.70a1.3 1.45 0 1 0 2.6 0a1.3 1.45 0 1 0 -2.6 0M48.00 275.60a1.3 1.45 0 1 0 2.6 0a1.3 1.45 0 1 0 -2.6 0M48.80 263.40a1.3 1.45 0 1 0 2.6 0a1.3 1.45 0 1 0 -2.6 0M50.40 264.10a1.3 1.45 0 1 0 2.6 0a1.3 1.45 0 1 0 -2.6 0M52.70 265.30a1.3 1.45 0 1 0 2.6 0a1.3 1.45 0 1 0 -2.6 0M53.80 268.50a1.3 1.45 0 1 0 2.6 0a1.3 1.45 0 1 0 -2.6 0M58.30 268.20a1.3 1.45 0 1 0 2.6 0a1.3 1.45 0 1 0 -2.6 0M58.30 265.30a1.3 1.45 0 1 0 2.6 0a1.3 1.45 0 1 0 -2.6 0M60.20 255.80a1.3 1.45 0 1 0 2.6 0a1.3 1.45 0 1 0 -2.6 0M66.20 251.90a1.3 1.45 0 1 0 2.6 0a1.3 1.45 0 1 0 -2.6 0M66.20 259.80a1.3 1.45 0 1 0 2.6 0a1.3 1.45 0 1 0 -2.6 0M68.60 260.60a1.3 1.45 0 1 0 2.6 0a1.3 1.45 0 1 0 -2.6 0M70.10 258.70a1.3 1.45 0 1 0 2.6 0a1.3 1.45 0 1 0 -2.6 0M72.50 247.10a1.3 1.45 0 1 0 2.6 0a1.3 1.45 0 1 0 -2.6 0M77.30 249.50a1.3 1.45 0 1 0 2.6 0a1.3 1.45 0 1 0 -2.6 0M42.40 273.20a1.3 1.45 0 1 0 2.6 0a1.3 1.45 0 1 0 -2.6 0M44.80 272.50a1.3 1.45 0 1 0 2.6 0a1.3 1.45 0 1 0 -2.6 0M117.30 209.50a1.3 1.45 0 1 0 2.6 0a1.3 1.45 0 1 0 -2.6 0M107.80 216.60a1.3 1.45 0 1 0 2.6 0a1.3 1.45 0 1 0 -2.6 0M110.10 219.80a1.3 1.45 0 1 0 2.6 0a1.3 1.45 0 1 0 -2.6 0M111.70 224.50a1.3 1.45 0 1 0 2.6 0a1.3 1.45 0 1 0 -2.6 0M106.20 219.80a1.3 1.45 0 1 0 2.6 0a1.3 1.45 0 1 0 -2.6 0M96.70 225.30a1.3 1.45 0 1 0 2.6 0a1.3 1.45 0 1 0 -2.6 0M98.30 226.90a1.3 1.45 0 1 0 2.6 0a1.3 1.45 0 1 0 -2.6 0M94.30 228.50a1.3 1.45 0 1 0 2.6 0a1.3 1.45 0 1 0 -2.6 0M101.40 230.90a1.3 1.45 0 1 0 2.6 0a1.3 1.45 0 1 0 -2.6 0M103.00 232.50a1.3 1.45 0 1 0 2.6 0a1.3 1.45 0 1 0 -2.6 0M96.70 234.00a1.3 1.45 0 1 0 2.6 0a1.3 1.45 0 1 0 -2.6 0M84.80 235.60a1.3 1.45 0 1 0 2.6 0a1.3 1.45 0 1 0 -2.6 0M86.40 234.80a1.3 1.45 0 1 0 2.6 0a1.3 1.45 0 1 0 -2.6 0M87.20 238.00a1.3 1.45 0 1 0 2.6 0a1.3 1.45 0 1 0 -2.6 0M88.00 242.00a1.3 1.45 0 1 0 2.6 0a1.3 1.45 0 1 0 -2.6 0M91.20 242.40a1.3 1.45 0 1 0 2.6 0a1.3 1.45 0 1 0 -2.6 0M78.50 242.70a1.3 1.45 0 1 0 2.6 0a1.3 1.45 0 1 0 -2.6 0M72.20 246.70a1.3 1.45 0 1 0 2.6 0a1.3 1.45 0 1 0 -2.6 0M80.90 247.50a1.3 1.45 0 1 0 2.6 0a1.3 1.45 0 1 0 -2.6 0M155.40 185.80a1.3 1.45 0 1 0 2.6 0a1.3 1.45 0 1 0 -2.6 0M145.10 192.20a1.3 1.45 0 1 0 2.6 0a1.3 1.45 0 1 0 -2.6 0M142.70 193.70a1.3 1.45 0 1 0 2.6 0a1.3 1.45 0 1 0 -2.6 0M140.40 196.10a1.3 1.45 0 1 0 2.6 0a1.3 1.45 0 1 0 -2.6 0M139.60 197.70a1.3 1.45 0 1 0 2.6 0a1.3 1.45 0 1 0 -2.6 0M134.80 204.80a1.3 1.45 0 1 0 2.6 0a1.3 1.45 0 1 0 -2.6 0M133.20 202.50a1.3 1.45 0 1 0 2.6 0a1.3 1.45 0 1 0 -2.6 0M130.90 204.00a1.3 1.45 0 1 0 2.6 0a1.3 1.45 0 1 0 -2.6 0M117.40 209.30a1.3 1.45 0 1 0 2.6 0a1.3 1.45 0 1 0 -2.6 0M124.50 215.90a1.3 1.45 0 1 0 2.6 0a1.3 1.45 0 1 0 -2.6 0M108.70 216.70a1.3 1.45 0 1 0 2.6 0a1.3 1.45 0 1 0 -2.6 0M26.77 285.99a1.3 1.45 0 1 0 2.6 0a1.3 1.45 0 1 0 -2.6 0M28.18 285.58a1.3 1.45 0 1 0 2.6 0a1.3 1.45 0 1 0 -2.6 0M29.93 284.39a1.3 1.45 0 1 0 2.6 0a1.3 1.45 0 1 0 -2.6 0M32.25 282.06a1.3 1.45 0 1 0 2.6 0a1.3 1.45 0 1 0 -2.6 0M33.74 281.12a1.3 1.45 0 1 0 2.6 0a1.3 1.45 0 1 0 -2.6 0M36.78 278.20a1.3 1.45 0 1 0 2.6 0a1.3 1.45 0 1 0 -2.6 0M37.06 278.28a1.3 1.45 0 1 0 2.6 0a1.3 1.45 0 1 0 -2.6 0M39.06 277.56a1.3 1.45 0 1 0 2.6 0a1.3 1.45 0 1 0 -2.6 0M42.28 274.40a1.3 1.45 0 1 0 2.6 0a1.3 1.45 0 1 0 -2.6 0M42.93 274.59a1.3 1.45 0 1 0 2.6 0a1.3 1.45 0 1 0 -2.6 0M44.36 274.31a1.3 1.45 0 1 0 2.6 0a1.3 1.45 0 1 0 -2.6 0M44.90 270.72a1.3 1.45 0 1 0 2.6 0a1.3 1.45 0 1 0 -2.6 0M45.23 272.30a1.3 1.45 0 1 0 2.6 0a1.3 1.45 0 1 0 -2.6 0M45.54 271.40a1.3 1.45 0 1 0 2.6 0a1.3 1.45 0 1 0 -2.6 0M46.00 271.00a1.3 1.45 0 1 0 2.6 0a1.3 1.45 0 1 0 -2.6 0M46.80 271.06a1.3 1.45 0 1 0 2.6 0a1.3 1.45 0 1 0 -2.6 0M46.94 270.59a1.3 1.45 0 1 0 2.6 0a1.3 1.45 0 1 0 -2.6 0M47.35 269.46a1.3 1.45 0 1 0 2.6 0a1.3 1.45 0 1 0 -2.6 0M47.87 268.55a1.3 1.45 0 1 0 2.6 0a1.3 1.45 0 1 0 -2.6 0M48.50 269.63a1.3 1.45 0 1 0 2.6 0a1.3 1.45 0 1 0 -2.6 0M48.86 267.75a1.3 1.45 0 1 0 2.6 0a1.3 1.45 0 1 0 -2.6 0M49.27 269.44a1.3 1.45 0 1 0 2.6 0a1.3 1.45 0 1 0 -2.6 0M49.78 267.33a1.3 1.45 0 1 0 2.6 0a1.3 1.45 0 1 0 -2.6 0M50.10 267.72a1.3 1.45 0 1 0 2.6 0a1.3 1.45 0 1 0 -2.6 0M50.67 267.89a1.3 1.45 0 1 0 2.6 0a1.3 1.45 0 1 0 -2.6 0M50.80 267.87a1.3 1.45 0 1 0 2.6 0a1.3 1.45 0 1 0 -2.6 0M51.62 266.34a1.3 1.45 0 1 0 2.6 0a1.3 1.45 0 1 0 -2.6 0M51.81 266.18a1.3 1.45 0 1 0 2.6 0a1.3 1.45 0 1 0 -2.6 0M52.23 266.47a1.3 1.45 0 1 0 2.6 0a1.3 1.45 0 1 0 -2.6 0M52.65 267.70a1.3 1.45 0 1 0 2.6 0a1.3 1.45 0 1 0 -2.6 0M53.26 265.78a1.3 1.45 0 1 0 2.6 0a1.3 1.45 0 1 0 -2.6 0M53.58 264.54a1.3 1.45 0 1 0 2.6 0a1.3 1.45 0 1 0 -2.6 0M53.92 264.80a1.3 1.45 0 1 0 2.6 0a1.3 1.45 0 1 0 -2.6 0M54.69 264.06a1.3 1.45 0 1 0 2.6 0a1.3 1.45 0 1 0 -2.6 0M54.95 263.96a1.3 1.45 0 1 0 2.6 0a1.3 1.45 0 1 0 -2.6 0M55.60 262.38a1.3 1.45 0 1 0 2.6 0a1.3 1.45 0 1 0 -2.6 0M55.80 263.28a1.3 1.45 0 1 0 2.6 0a1.3 1.45 0 1 0 -2.6 0M56.08 263.01a1.3 1.45 0 1 0 2.6 0a1.3 1.45 0 1 0 -2.6 0M56.63 262.50a1.3 1.45 0 1 0 2.6 0a1.3 1.45 0 1 0 -2.6 0M57.03 262.32a1.3 1.45 0 1 0 2.6 0a1.3 1.45 0 1 0 -2.6 0M57.61 261.34a1.3 1.45 0 1 0 2.6 0a1.3 1.45 0 1 0 -2.6 0M57.98 262.49a1.3 1.45 0 1 0 2.6 0a1.3 1.45 0 1 0 -2.6 0M58.42 262.07a1.3 1.45 0 1 0 2.6 0a1.3 1.45 0 1 0 -2.6 0M58.82 261.25a1.3 1.45 0 1 0 2.6 0a1.3 1.45 0 1 0 -2.6 0M59.14 261.19a1.3 1.45 0 1 0 2.6 0a1.3 1.45 0 1 0 -2.6 0M59.61 258.96a1.3 1.45 0 1 0 2.6 0a1.3 1.45 0 1 0 -2.6 0M60.21 260.91a1.3 1.45 0 1 0 2.6 0a1.3 1.45 0 1 0 -2.6 0M60.53 260.71a1.3 1.45 0 1 0 2.6 0a1.3 1.45 0 1 0 -2.6 0M60.99 259.45a1.3 1.45 0 1 0 2.6 0a1.3 1.45 0 1 0 -2.6 0M61.50 258.43a1.3 1.45 0 1 0 2.6 0a1.3 1.45 0 1 0 -2.6 0M62.17 257.80a1.3 1.45 0 1 0 2.6 0a1.3 1.45 0 1 0 -2.6 0M62.19 259.52a1.3 1.45 0 1 0 2.6 0a1.3 1.45 0 1 0 -2.6 0M62.64 258.49a1.3 1.45 0 1 0 2.6 0a1.3 1.45 0 1 0 -2.6 0M63.27 258.92a1.3 1.45 0 1 0 2.6 0a1.3 1.45 0 1 0 -2.6 0M63.76 256.66a1.3 1.45 0 1 0 2.6 0a1.3 1.45 0 1 0 -2.6 0M64.35 256.81a1.3 1.45 0 1 0 2.6 0a1.3 1.45 0 1 0 -2.6 0M64.74 255.49a1.3 1.45 0 1 0 2.6 0a1.3 1.45 0 1 0 -2.6 0M64.93 257.65a1.3 1.45 0 1 0 2.6 0a1.3 1.45 0 1 0 -2.6 0M65.30 255.64a1.3 1.45 0 1 0 2.6 0a1.3 1.45 0 1 0 -2.6 0M65.99 254.90a1.3 1.45 0 1 0 2.6 0a1.3 1.45 0 1 0 -2.6 0M66.55 255.24a1.3 1.45 0 1 0 2.6 0a1.3 1.45 0 1 0 -2.6 0M66.91 255.67a1.3 1.45 0 1 0 2.6 0a1.3 1.45 0 1 0 -2.6 0M67.21 254.72a1.3 1.45 0 1 0 2.6 0a1.3 1.45 0 1 0 -2.6 0M67.79 254.15a1.3 1.45 0 1 0 2.6 0a1.3 1.45 0 1 0 -2.6 0M67.99 253.17a1.3 1.45 0 1 0 2.6 0a1.3 1.45 0 1 0 -2.6 0M68.46 254.00a1.3 1.45 0 1 0 2.6 0a1.3 1.45 0 1 0 -2.6 0M68.82 253.30a1.3 1.45 0 1 0 2.6 0a1.3 1.45 0 1 0 -2.6 0M69.51 251.87a1.3 1.45 0 1 0 2.6 0a1.3 1.45 0 1 0 -2.6 0M69.69 251.93a1.3 1.45 0 1 0 2.6 0a1.3 1.45 0 1 0 -2.6 0M70.34 251.77a1.3 1.45 0 1 0 2.6 0a1.3 1.45 0 1 0 -2.6 0M70.69 251.68a1.3 1.45 0 1 0 2.6 0a1.3 1.45 0 1 0 -2.6 0M70.96 250.78a1.3 1.45 0 1 0 2.6 0a1.3 1.45 0 1 0 -2.6 0M71.53 252.66a1.3 1.45 0 1 0 2.6 0a1.3 1.45 0 1 0 -2.6 0M72.12 250.31a1.3 1.45 0 1 0 2.6 0a1.3 1.45 0 1 0 -2.6 0M72.66 250.71a1.3 1.45 0 1 0 2.6 0a1.3 1.45 0 1 0 -2.6 0M72.82 250.07a1.3 1.45 0 1 0 2.6 0a1.3 1.45 0 1 0 -2.6 0M73.57 249.70a1.3 1.45 0 1 0 2.6 0a1.3 1.45 0 1 0 -2.6 0M73.60 250.03a1.3 1.45 0 1 0 2.6 0a1.3 1.45 0 1 0 -2.6 0M74.25 249.31a1.3 1.45 0 1 0 2.6 0a1.3 1.45 0 1 0 -2.6 0M74.58 249.32a1.3 1.45 0 1 0 2.6 0a1.3 1.45 0 1 0 -2.6 0M75.20 247.87a1.3 1.45 0 1 0 2.6 0a1.3 1.45 0 1 0 -2.6 0M75.36 248.34a1.3 1.45 0 1 0 2.6 0a1.3 1.45 0 1 0 -2.6 0M75.93 248.51a1.3 1.45 0 1 0 2.6 0a1.3 1.45 0 1 0 -2.6 0M76.31 246.95a1.3 1.45 0 1 0 2.6 0a1.3 1.45 0 1 0 -2.6 0M77.01 246.89a1.3 1.45 0 1 0 2.6 0a1.3 1.45 0 1 0 -2.6 0M77.19 247.43a1.3 1.45 0 1 0 2.6 0a1.3 1.45 0 1 0 -2.6 0M77.97 246.52a1.3 1.45 0 1 0 2.6 0a1.3 1.45 0 1 0 -2.6 0M78.08 244.95a1.3 1.45 0 1 0 2.6 0a1.3 1.45 0 1 0 -2.6 0M78.51 245.62a1.3 1.45 0 1 0 2.6 0a1.3 1.45 0 1 0 -2.6 0M79.27 245.57a1.3 1.45 0 1 0 2.6 0a1.3 1.45 0 1 0 -2.6 0M79.51 244.71a1.3 1.45 0 1 0 2.6 0a1.3 1.45 0 1 0 -2.6 0M79.92 244.15a1.3 1.45 0 1 0 2.6 0a1.3 1.45 0 1 0 -2.6 0M80.46 243.80a1.3 1.45 0 1 0 2.6 0a1.3 1.45 0 1 0 -2.6 0M80.78 243.98a1.3 1.45 0 1 0 2.6 0a1.3 1.45 0 1 0 -2.6 0M81.14 243.25a1.3 1.45 0 1 0 2.6 0a1.3 1.45 0 1 0 -2.6 0M81.51 243.35a1.3 1.45 0 1 0 2.6 0a1.3 1.45 0 1 0 -2.6 0M81.95 243.98a1.3 1.45 0 1 0 2.6 0a1.3 1.45 0 1 0 -2.6 0M82.75 241.51a1.3 1.45 0 1 0 2.6 0a1.3 1.45 0 1 0 -2.6 0M83.13 240.61a1.3 1.45 0 1 0 2.6 0a1.3 1.45 0 1 0 -2.6 0M83.39 241.84a1.3 1.45 0 1 0 2.6 0a1.3 1.45 0 1 0 -2.6 0M83.76 240.59a1.3 1.45 0 1 0 2.6 0a1.3 1.45 0 1 0 -2.6 0M84.13 241.63a1.3 1.45 0 1 0 2.6 0a1.3 1.45 0 1 0 -2.6 0M84.85 241.10a1.3 1.45 0 1 0 2.6 0a1.3 1.45 0 1 0 -2.6 0M85.14 240.03a1.3 1.45 0 1 0 2.6 0a1.3 1.45 0 1 0 -2.6 0M85.51 239.65a1.3 1.45 0 1 0 2.6 0a1.3 1.45 0 1 0 -2.6 0M86.03 239.73a1.3 1.45 0 1 0 2.6 0a1.3 1.45 0 1 0 -2.6 0M86.73 238.06a1.3 1.45 0 1 0 2.6 0a1.3 1.45 0 1 0 -2.6 0M86.84 237.99a1.3 1.45 0 1 0 2.6 0a1.3 1.45 0 1 0 -2.6 0M87.35 238.21a1.3 1.45 0 1 0 2.6 0a1.3 1.45 0 1 0 -2.6 0M87.82 239.36a1.3 1.45 0 1 0 2.6 0a1.3 1.45 0 1 0 -2.6 0M88.09 238.71a1.3 1.45 0 1 0 2.6 0a1.3 1.45 0 1 0 -2.6 0M88.91 237.38a1.3 1.45 0 1 0 2.6 0a1.3 1.45 0 1 0 -2.6 0M89.03 238.24a1.3 1.45 0 1 0 2.6 0a1.3 1.45 0 1 0 -2.6 0M89.40 236.10a1.3 1.45 0 1 0 2.6 0a1.3 1.45 0 1 0 -2.6 0M90.00 236.22a1.3 1.45 0 1 0 2.6 0a1.3 1.45 0 1 0 -2.6 0M90.28 237.37a1.3 1.45 0 1 0 2.6 0a1.3 1.45 0 1 0 -2.6 0M90.72 234.78a1.3 1.45 0 1 0 2.6 0a1.3 1.45 0 1 0 -2.6 0M91.25 235.10a1.3 1.45 0 1 0 2.6 0a1.3 1.45 0 1 0 -2.6 0M91.91 234.67a1.3 1.45 0 1 0 2.6 0a1.3 1.45 0 1 0 -2.6 0M92.14 235.27a1.3 1.45 0 1 0 2.6 0a1.3 1.45 0 1 0 -2.6 0M92.88 234.71a1.3 1.45 0 1 0 2.6 0a1.3 1.45 0 1 0 -2.6 0M93.21 234.41a1.3 1.45 0 1 0 2.6 0a1.3 1.45 0 1 0 -2.6 0M93.47 233.89a1.3 1.45 0 1 0 2.6 0a1.3 1.45 0 1 0 -2.6 0M94.10 233.33a1.3 1.45 0 1 0 2.6 0a1.3 1.45 0 1 0 -2.6 0M94.61 233.97a1.3 1.45 0 1 0 2.6 0a1.3 1.45 0 1 0 -2.6 0M94.66 234.05a1.3 1.45 0 1 0 2.6 0a1.3 1.45 0 1 0 -2.6 0M95.19 234.05a1.3 1.45 0 1 0 2.6 0a1.3 1.45 0 1 0 -2.6 0M95.94 231.70a1.3 1.45 0 1 0 2.6 0a1.3 1.45 0 1 0 -2.6 0M96.13 231.79a1.3 1.45 0 1 0 2.6 0a1.3 1.45 0 1 0 -2.6 0M96.62 230.75a1.3 1.45 0 1 0 2.6 0a1.3 1.45 0 1 0 -2.6 0M97.25 230.46a1.3 1.45 0 1 0 2.6 0a1.3 1.45 0 1 0 -2.6 0M97.61 229.62a1.3 1.45 0 1 0 2.6 0a1.3 1.45 0 1 0 -2.6 0M98.08 230.14a1.3 1.45 0 1 0 2.6 0a1.3 1.45 0 1 0 -2.6 0M98.30 230.91a1.3 1.45 0 1 0 2.6 0a1.3 1.45 0 1 0 -2.6 0M98.74 230.43a1.3 1.45 0 1 0 2.6 0a1.3 1.45 0 1 0 -2.6 0M99.07 228.66a1.3 1.45 0 1 0 2.6 0a1.3 1.45 0 1 0 -2.6 0M99.56 229.08a1.3 1.45 0 1 0 2.6 0a1.3 1.45 0 1 0 -2.6 0M99.94 229.25a1.3 1.45 0 1 0 2.6 0a1.3 1.45 0 1 0 -2.6 0M100.37 228.97a1.3 1.45 0 1 0 2.6 0a1.3 1.45 0 1 0 -2.6 0M101.22 227.96a1.3 1.45 0 1 0 2.6 0a1.3 1.45 0 1 0 -2.6 0M101.62 226.99a1.3 1.45 0 1 0 2.6 0a1.3 1.45 0 1 0 -2.6 0M101.70 227.44a1.3 1.45 0 1 0 2.6 0a1.3 1.45 0 1 0 -2.6 0M102.15 228.02a1.3 1.45 0 1 0 2.6 0a1.3 1.45 0 1 0 -2.6 0M102.74 226.58a1.3 1.45 0 1 0 2.6 0a1.3 1.45 0 1 0 -2.6 0M103.09 227.06a1.3 1.45 0 1 0 2.6 0a1.3 1.45 0 1 0 -2.6 0M103.72 225.39a1.3 1.45 0 1 0 2.6 0a1.3 1.45 0 1 0 -2.6 0M104.19 224.93a1.3 1.45 0 1 0 2.6 0a1.3 1.45 0 1 0 -2.6 0M104.35 226.06a1.3 1.45 0 1 0 2.6 0a1.3 1.45 0 1 0 -2.6 0M105.11 224.94a1.3 1.45 0 1 0 2.6 0a1.3 1.45 0 1 0 -2.6 0M105.34 223.77a1.3 1.45 0 1 0 2.6 0a1.3 1.45 0 1 0 -2.6 0M105.94 223.92a1.3 1.45 0 1 0 2.6 0a1.3 1.45 0 1 0 -2.6 0M106.16 223.45a1.3 1.45 0 1 0 2.6 0a1.3 1.45 0 1 0 -2.6 0M106.56 222.98a1.3 1.45 0 1 0 2.6 0a1.3 1.45 0 1 0 -2.6 0M107.08 223.71a1.3 1.45 0 1 0 2.6 0a1.3 1.45 0 1 0 -2.6 0M107.54 222.07a1.3 1.45 0 1 0 2.6 0a1.3 1.45 0 1 0 -2.6 0M107.91 222.55a1.3 1.45 0 1 0 2.6 0a1.3 1.45 0 1 0 -2.6 0M108.60 223.05a1.3 1.45 0 1 0 2.6 0a1.3 1.45 0 1 0 -2.6 0M108.73 223.42a1.3 1.45 0 1 0 2.6 0a1.3 1.45 0 1 0 -2.6 0M109.33 220.90a1.3 1.45 0 1 0 2.6 0a1.3 1.45 0 1 0 -2.6 0M109.97 221.97a1.3 1.45 0 1 0 2.6 0a1.3 1.45 0 1 0 -2.6 0M110.03 220.92a1.3 1.45 0 1 0 2.6 0a1.3 1.45 0 1 0 -2.6 0M110.78 220.01a1.3 1.45 0 1 0 2.6 0a1.3 1.45 0 1 0 -2.6 0M111.93 220.40a1.3 1.45 0 1 0 2.6 0a1.3 1.45 0 1 0 -2.6 0M112.19 219.75a1.3 1.45 0 1 0 2.6 0a1.3 1.45 0 1 0 -2.6 0M113.16 218.77a1.3 1.45 0 1 0 2.6 0a1.3 1.45 0 1 0 -2.6 0M113.75 217.79a1.3 1.45 0 1 0 2.6 0a1.3 1.45 0 1 0 -2.6 0M114.51 216.76a1.3 1.45 0 1 0 2.6 0a1.3 1.45 0 1 0 -2.6 0M114.95 216.54a1.3 1.45 0 1 0 2.6 0a1.3 1.45 0 1 0 -2.6 0M115.34 216.87a1.3 1.45 0 1 0 2.6 0a1.3 1.45 0 1 0 -2.6 0M115.98 215.95a1.3 1.45 0 1 0 2.6 0a1.3 1.45 0 1 0 -2.6 0M116.66 216.25a1.3 1.45 0 1 0 2.6 0a1.3 1.45 0 1 0 -2.6 0M117.27 215.59a1.3 1.45 0 1 0 2.6 0a1.3 1.45 0 1 0 -2.6 0M117.80 215.10a1.3 1.45 0 1 0 2.6 0a1.3 1.45 0 1 0 -2.6 0M118.56 213.43a1.3 1.45 0 1 0 2.6 0a1.3 1.45 0 1 0 -2.6 0M119.29 213.29a1.3 1.45 0 1 0 2.6 0a1.3 1.45 0 1 0 -2.6 0M120.09 212.03a1.3 1.45 0 1 0 2.6 0a1.3 1.45 0 1 0 -2.6 0M120.43 212.24a1.3 1.45 0 1 0 2.6 0a1.3 1.45 0 1 0 -2.6 0M121.39 211.59a1.3 1.45 0 1 0 2.6 0a1.3 1.45 0 1 0 -2.6 0M122.10 211.08a1.3 1.45 0 1 0 2.6 0a1.3 1.45 0 1 0 -2.6 0M122.78 210.64a1.3 1.45 0 1 0 2.6 0a1.3 1.45 0 1 0 -2.6 0M123.25 210.54a1.3 1.45 0 1 0 2.6 0a1.3 1.45 0 1 0 -2.6 0M124.25 209.21a1.3 1.45 0 1 0 2.6 0a1.3 1.45 0 1 0 -2.6 0M124.48 209.92a1.3 1.45 0 1 0 2.6 0a1.3 1.45 0 1 0 -2.6 0M125.20 209.11a1.3 1.45 0 1 0 2.6 0a1.3 1.45 0 1 0 -2.6 0M126.14 207.67a1.3 1.45 0 1 0 2.6 0a1.3 1.45 0 1 0 -2.6 0M126.35 208.01a1.3 1.45 0 1 0 2.6 0a1.3 1.45 0 1 0 -2.6 0M127.35 207.20a1.3 1.45 0 1 0 2.6 0a1.3 1.45 0 1 0 -2.6 0M128.11 206.56a1.3 1.45 0 1 0 2.6 0a1.3 1.45 0 1 0 -2.6 0M128.45 206.12a1.3 1.45 0 1 0 2.6 0a1.3 1.45 0 1 0 -2.6 0M129.39 206.09a1.3 1.45 0 1 0 2.6 0a1.3 1.45 0 1 0 -2.6 0M129.77 205.26a1.3 1.45 0 1 0 2.6 0a1.3 1.45 0 1 0 -2.6 0M130.48 204.67a1.3 1.45 0 1 0 2.6 0a1.3 1.45 0 1 0 -2.6 0M131.18 204.00a1.3 1.45 0 1 0 2.6 0a1.3 1.45 0 1 0 -2.6 0M131.82 203.82a1.3 1.45 0 1 0 2.6 0a1.3 1.45 0 1 0 -2.6 0M132.31 203.61a1.3 1.45 0 1 0 2.6 0a1.3 1.45 0 1 0 -2.6 0M132.90 202.85a1.3 1.45 0 1 0 2.6 0a1.3 1.45 0 1 0 -2.6 0M133.70 201.99a1.3 1.45 0 1 0 2.6 0a1.3 1.45 0 1 0 -2.6 0M134.33 201.83a1.3 1.45 0 1 0 2.6 0a1.3 1.45 0 1 0 -2.6 0M135.18 200.71a1.3 1.45 0 1 0 2.6 0a1.3 1.45 0 1 0 -2.6 0M135.39 200.95a1.3 1.45 0 1 0 2.6 0a1.3 1.45 0 1 0 -2.6 0M136.57 199.36a1.3 1.45 0 1 0 2.6 0a1.3 1.45 0 1 0 -2.6 0M136.64 199.99a1.3 1.45 0 1 0 2.6 0a1.3 1.45 0 1 0 -2.6 0M137.86 199.81a1.3 1.45 0 1 0 2.6 0a1.3 1.45 0 1 0 -2.6 0M138.31 197.85a1.3 1.45 0 1 0 2.6 0a1.3 1.45 0 1 0 -2.6 0M139.09 197.48a1.3 1.45 0 1 0 2.6 0a1.3 1.45 0 1 0 -2.6 0M139.35 196.99a1.3 1.45 0 1 0 2.6 0a1.3 1.45 0 1 0 -2.6 0M140.12 196.60a1.3 1.45 0 1 0 2.6 0a1.3 1.45 0 1 0 -2.6 0M140.62 197.58a1.3 1.45 0 1 0 2.6 0a1.3 1.45 0 1 0 -2.6 0M141.29 196.75a1.3 1.45 0 1 0 2.6 0a1.3 1.45 0 1 0 -2.6 0M142.05 195.27a1.3 1.45 0 1 0 2.6 0a1.3 1.45 0 1 0 -2.6 0M142.53 195.25a1.3 1.45 0 1 0 2.6 0a1.3 1.45 0 1 0 -2.6 0M143.68 193.51a1.3 1.45 0 1 0 2.6 0a1.3 1.45 0 1 0 -2.6 0M143.77 195.11a1.3 1.45 0 1 0 2.6 0a1.3 1.45 0 1 0 -2.6 0M144.42 194.11a1.3 1.45 0 1 0 2.6 0a1.3 1.45 0 1 0 -2.6 0M145.59 192.33a1.3 1.45 0 1 0 2.6 0a1.3 1.45 0 1 0 -2.6 0" stroke="#0a0ad8" stroke-width="0.85" fill="none"/>
<line x1="27.65" y1="286.72" x2="155.92" y2="185.75" stroke="#e41e46" stroke-width="0.85"/>
<rect x="206.8" y="163.8" width="167.70" height="131.70" fill="none" stroke="#a2a2a2" stroke-width="1.1"/>
<path d="M217.98 295.5v-1.6M217.98 163.8v1.6M206.8 286.72h1.6M374.5 286.72h-1.6M240.34 295.5v-1.6M240.34 163.8v1.6M206.8 269.16h1.6M374.5 269.16h-1.6M262.70 295.5v-1.6M262.70 163.8v1.6M206.8 251.60h1.6M374.5 251.60h-1.6M285.06 295.5v-1.6M285.06 163.8v1.6M206.8 234.04h1.6M374.5 234.04h-1.6M307.42 295.5v-1.6M307.42 163.8v1.6M206.8 216.48h1.6M374.5 216.48h-1.6M329.78 295.5v-1.6M329.78 163.8v1.6M206.8 198.92h1.6M374.5 198.92h-1.6M352.14 295.5v-1.6M352.14 163.8v1.6M206.8 181.36h1.6M374.5 181.36h-1.6" stroke="#555" stroke-width="0.9" fill="none"/>
<text x="217.98" y="303.10" class="tk" text-anchor="middle">8</text>
<text x="204.50" y="288.52" class="tk" text-anchor="end">8</text>
<text x="240.34" y="303.10" class="tk" text-anchor="middle">10</text>
<text x="204.50" y="270.96" class="tk" text-anchor="end">10</text>
<text x="262.70" y="303.10" class="tk" text-anchor="middle">12</text>
<text x="204.50" y="253.40" class="tk" text-anchor="end">12</text>
<text x="285.06" y="303.10" class="tk" text-anchor="middle">14</text>
<text x="204.50" y="235.84" class="tk" text-anchor="end">14</text>
<text x="307.42" y="303.10" class="tk" text-anchor="middle">16</text>
<text x="204.50" y="218.28" class="tk" text-anchor="end">16</text>
<text x="329.78" y="303.10" class="tk" text-anchor="middle">18</text>
<text x="204.50" y="200.72" class="tk" text-anchor="end">18</text>
<text x="352.14" y="303.10" class="tk" text-anchor="middle">20</text>
<text x="204.50" y="183.16" class="tk" text-anchor="end">20</text>
<text x="374.50" y="303.10" class="tk" text-anchor="middle">22</text>
<text x="204.50" y="165.60" class="tk" text-anchor="end">22</text>
<path d="M217.20 278.40a1.3 1.45 0 1 0 2.6 0a1.3 1.45 0 1 0 -2.6 0M274.60 235.80a1.3 1.45 0 1 0 2.6 0a1.3 1.45 0 1 0 -2.6 0M269.00 242.80a1.3 1.45 0 1 0 2.6 0a1.3 1.45 0 1 0 -2.6 0M272.10 247.60a1.3 1.45 0 1 0 2.6 0a1.3 1.45 0 1 0 -2.6 0M345.80 185.80a1.3 1.45 0 1 0 2.6 0a1.3 1.45 0 1 0 -2.6 0M336.70 191.70a1.3 1.45 0 1 0 2.6 0a1.3 1.45 0 1 0 -2.6 0M332.90 195.00a1.3 1.45 0 1 0 2.6 0a1.3 1.45 0 1 0 -2.6 0M331.00 196.80a1.3 1.45 0 1 0 2.6 0a1.3 1.45 0 1 0 -2.6 0M324.30 200.60a1.3 1.45 0 1 0 2.6 0a1.3 1.45 0 1 0 -2.6 0M217.42 285.90a1.3 1.45 0 1 0 2.6 0a1.3 1.45 0 1 0 -2.6 0M218.86 285.10a1.3 1.45 0 1 0 2.6 0a1.3 1.45 0 1 0 -2.6 0M220.14 283.74a1.3 1.45 0 1 0 2.6 0a1.3 1.45 0 1 0 -2.6 0M221.28 283.27a1.3 1.45 0 1 0 2.6 0a1.3 1.45 0 1 0 -2.6 0M222.63 282.28a1.3 1.45 0 1 0 2.6 0a1.3 1.45 0 1 0 -2.6 0M226.75 279.07a1.3 1.45 0 1 0 2.6 0a1.3 1.45 0 1 0 -2.6 0M227.17 278.72a1.3 1.45 0 1 0 2.6 0a1.3 1.45 0 1 0 -2.6 0M227.71 278.00a1.3 1.45 0 1 0 2.6 0a1.3 1.45 0 1 0 -2.6 0M227.85 278.28a1.3 1.45 0 1 0 2.6 0a1.3 1.45 0 1 0 -2.6 0M228.30 277.46a1.3 1.45 0 1 0 2.6 0a1.3 1.45 0 1 0 -2.6 0M228.64 277.23a1.3 1.45 0 1 0 2.6 0a1.3 1.45 0 1 0 -2.6 0M228.87 277.49a1.3 1.45 0 1 0 2.6 0a1.3 1.45 0 1 0 -2.6 0M229.20 276.76a1.3 1.45 0 1 0 2.6 0a1.3 1.45 0 1 0 -2.6 0M229.76 276.01a1.3 1.45 0 1 0 2.6 0a1.3 1.45 0 1 0 -2.6 0M230.16 275.89a1.3 1.45 0 1 0 2.6 0a1.3 1.45 0 1 0 -2.6 0M230.41 275.59a1.3 1.45 0 1 0 2.6 0a1.3 1.45 0 1 0 -2.6 0M230.72 275.57a1.3 1.45 0 1 0 2.6 0a1.3 1.45 0 1 0 -2.6 0M231.27 274.87a1.3 1.45 0 1 0 2.6 0a1.3 1.45 0 1 0 -2.6 0M231.63 274.52a1.3 1.45 0 1 0 2.6 0a1.3 1.45 0 1 0 -2.6 0M231.89 274.70a1.3 1.45 0 1 0 2.6 0a1.3 1.45 0 1 0 -2.6 0M232.33 274.62a1.3 1.45 0 1 0 2.6 0a1.3 1.45 0 1 0 -2.6 0M232.50 273.63a1.3 1.45 0 1 0 2.6 0a1.3 1.45 0 1 0 -2.6 0M232.74 274.29a1.3 1.45 0 1 0 2.6 0a1.3 1.45 0 1 0 -2.6 0M233.31 273.56a1.3 1.45 0 1 0 2.6 0a1.3 1.45 0 1 0 -2.6 0M233.50 273.56a1.3 1.45 0 1 0 2.6 0a1.3 1.45 0 1 0 -2.6 0M233.99 272.77a1.3 1.45 0 1 0 2.6 0a1.3 1.45 0 1 0 -2.6 0M234.17 272.43a1.3 1.45 0 1 0 2.6 0a1.3 1.45 0 1 0 -2.6 0M234.71 272.33a1.3 1.45 0 1 0 2.6 0a1.3 1.45 0 1 0 -2.6 0M235.10 271.97a1.3 1.45 0 1 0 2.6 0a1.3 1.45 0 1 0 -2.6 0M235.20 272.21a1.3 1.45 0 1 0 2.6 0a1.3 1.45 0 1 0 -2.6 0M235.59 271.51a1.3 1.45 0 1 0 2.6 0a1.3 1.45 0 1 0 -2.6 0M235.84 271.60a1.3 1.45 0 1 0 2.6 0a1.3 1.45 0 1 0 -2.6 0M236.50 270.99a1.3 1.45 0 1 0 2.6 0a1.3 1.45 0 1 0 -2.6 0M236.76 270.80a1.3 1.45 0 1 0 2.6 0a1.3 1.45 0 1 0 -2.6 0M237.15 270.76a1.3 1.45 0 1 0 2.6 0a1.3 1.45 0 1 0 -2.6 0M237.26 270.98a1.3 1.45 0 1 0 2.6 0a1.3 1.45 0 1 0 -2.6 0M237.70 270.30a1.3 1.45 0 1 0 2.6 0a1.3 1.45 0 1 0 -2.6 0M238.23 270.18a1.3 1.45 0 1 0 2.6 0a1.3 1.45 0 1 0 -2.6 0M238.58 269.66a1.3 1.45 0 1 0 2.6 0a1.3 1.45 0 1 0 -2.6 0M238.66 269.03a1.3 1.45 0 1 0 2.6 0a1.3 1.45 0 1 0 -2.6 0M239.11 269.13a1.3 1.45 0 1 0 2.6 0a1.3 1.45 0 1 0 -2.6 0M239.60 268.81a1.3 1.45 0 1 0 2.6 0a1.3 1.45 0 1 0 -2.6 0M239.87 267.57a1.3 1.45 0 1 0 2.6 0a1.3 1.45 0 1 0 -2.6 0M240.14 268.26a1.3 1.45 0 1 0 2.6 0a1.3 1.45 0 1 0 -2.6 0M240.43 268.40a1.3 1.45 0 1 0 2.6 0a1.3 1.45 0 1 0 -2.6 0M240.98 267.10a1.3 1.45 0 1 0 2.6 0a1.3 1.45 0 1 0 -2.6 0M241.15 267.33a1.3 1.45 0 1 0 2.6 0a1.3 1.45 0 1 0 -2.6 0M241.64 266.71a1.3 1.45 0 1 0 2.6 0a1.3 1.45 0 1 0 -2.6 0M242.00 266.88a1.3 1.45 0 1 0 2.6 0a1.3 1.45 0 1 0 -2.6 0M242.22 266.58a1.3 1.45 0 1 0 2.6 0a1.3 1.45 0 1 0 -2.6 0M242.52 266.43a1.3 1.45 0 1 0 2.6 0a1.3 1.45 0 1 0 -2.6 0M243.03 266.36a1.3 1.45 0 1 0 2.6 0a1.3 1.45 0 1 0 -2.6 0M243.48 265.52a1.3 1.45 0 1 0 2.6 0a1.3 1.45 0 1 0 -2.6 0M243.56 265.55a1.3 1.45 0 1 0 2.6 0a1.3 1.45 0 1 0 -2.6 0M243.87 264.92a1.3 1.45 0 1 0 2.6 0a1.3 1.45 0 1 0 -2.6 0M244.21 265.19a1.3 1.45 0 1 0 2.6 0a1.3 1.45 0 1 0 -2.6 0M244.68 264.61a1.3 1.45 0 1 0 2.6 0a1.3 1.45 0 1 0 -2.6 0M244.99 264.84a1.3 1.45 0 1 0 2.6 0a1.3 1.45 0 1 0 -2.6 0M245.33 264.43a1.3 1.45 0 1 0 2.6 0a1.3 1.45 0 1 0 -2.6 0M245.83 263.99a1.3 1.45 0 1 0 2.6 0a1.3 1.45 0 1 0 -2.6 0M246.28 263.44a1.3 1.45 0 1 0 2.6 0a1.3 1.45 0 1 0 -2.6 0M246.39 263.30a1.3 1.45 0 1 0 2.6 0a1.3 1.45 0 1 0 -2.6 0M246.88 262.89a1.3 1.45 0 1 0 2.6 0a1.3 1.45 0 1 0 -2.6 0M247.31 262.60a1.3 1.45 0 1 0 2.6 0a1.3 1.45 0 1 0 -2.6 0M247.45 262.86a1.3 1.45 0 1 0 2.6 0a1.3 1.45 0 1 0 -2.6 0M247.71 262.59a1.3 1.45 0 1 0 2.6 0a1.3 1.45 0 1 0 -2.6 0M248.18 262.30a1.3 1.45 0 1 0 2.6 0a1.3 1.45 0 1 0 -2.6 0M248.63 262.31a1.3 1.45 0 1 0 2.6 0a1.3 1.45 0 1 0 -2.6 0M249.01 261.08a1.3 1.45 0 1 0 2.6 0a1.3 1.45 0 1 0 -2.6 0M249.19 261.11a1.3 1.45 0 1 0 2.6 0a1.3 1.45 0 1 0 -2.6 0M249.64 260.89a1.3 1.45 0 1 0 2.6 0a1.3 1.45 0 1 0 -2.6 0M249.94 260.59a1.3 1.45 0 1 0 2.6 0a1.3 1.45 0 1 0 -2.6 0M250.42 260.11a1.3 1.45 0 1 0 2.6 0a1.3 1.45 0 1 0 -2.6 0M250.50 260.85a1.3 1.45 0 1 0 2.6 0a1.3 1.45 0 1 0 -2.6 0M250.90 260.08a1.3 1.45 0 1 0 2.6 0a1.3 1.45 0 1 0 -2.6 0M251.27 259.84a1.3 1.45 0 1 0 2.6 0a1.3 1.45 0 1 0 -2.6 0M251.77 259.39a1.3 1.45 0 1 0 2.6 0a1.3 1.45 0 1 0 -2.6 0M252.18 258.72a1.3 1.45 0 1 0 2.6 0a1.3 1.45 0 1 0 -2.6 0M252.35 258.47a1.3 1.45 0 1 0 2.6 0a1.3 1.45 0 1 0 -2.6 0M252.61 258.09a1.3 1.45 0 1 0 2.6 0a1.3 1.45 0 1 0 -2.6 0M253.20 258.39a1.3 1.45 0 1 0 2.6 0a1.3 1.45 0 1 0 -2.6 0M253.30 257.68a1.3 1.45 0 1 0 2.6 0a1.3 1.45 0 1 0 -2.6 0M253.81 257.98a1.3 1.45 0 1 0 2.6 0a1.3 1.45 0 1 0 -2.6 0M254.25 257.42a1.3 1.45 0 1 0 2.6 0a1.3 1.45 0 1 0 -2.6 0M254.38 257.05a1.3 1.45 0 1 0 2.6 0a1.3 1.45 0 1 0 -2.6 0M254.77 256.53a1.3 1.45 0 1 0 2.6 0a1.3 1.45 0 1 0 -2.6 0M255.30 256.32a1.3 1.45 0 1 0 2.6 0a1.3 1.45 0 1 0 -2.6 0M255.63 255.86a1.3 1.45 0 1 0 2.6 0a1.3 1.45 0 1 0 -2.6 0M255.83 256.37a1.3 1.45 0 1 0 2.6 0a1.3 1.45 0 1 0 -2.6 0M256.28 256.12a1.3 1.45 0 1 0 2.6 0a1.3 1.45 0 1 0 -2.6 0M256.62 255.14a1.3 1.45 0 1 0 2.6 0a1.3 1.45 0 1 0 -2.6 0M256.88 255.65a1.3 1.45 0 1 0 2.6 0a1.3 1.45 0 1 0 -2.6 0M257.21 255.51a1.3 1.45 0 1 0 2.6 0a1.3 1.45 0 1 0 -2.6 0M257.79 254.19a1.3 1.45 0 1 0 2.6 0a1.3 1.45 0 1 0 -2.6 0M257.92 254.31a1.3 1.45 0 1 0 2.6 0a1.3 1.45 0 1 0 -2.6 0M258.45 253.44a1.3 1.45 0 1 0 2.6 0a1.3 1.45 0 1 0 -2.6 0M258.65 253.93a1.3 1.45 0 1 0 2.6 0a1.3 1.45 0 1 0 -2.6 0M259.19 253.44a1.3 1.45 0 1 0 2.6 0a1.3 1.45 0 1 0 -2.6 0M259.55 252.85a1.3 1.45 0 1 0 2.6 0a1.3 1.45 0 1 0 -2.6 0M259.80 253.01a1.3 1.45 0 1 0 2.6 0a1.3 1.45 0 1 0 -2.6 0M260.27 252.91a1.3 1.45 0 1 0 2.6 0a1.3 1.45 0 1 0 -2.6 0M260.45 252.10a1.3 1.45 0 1 0 2.6 0a1.3 1.45 0 1 0 -2.6 0M260.93 252.37a1.3 1.45 0 1 0 2.6 0a1.3 1.45 0 1 0 -2.6 0M261.13 251.87a1.3 1.45 0 1 0 2.6 0a1.3 1.45 0 1 0 -2.6 0M261.44 251.96a1.3 1.45 0 1 0 2.6 0a1.3 1.45 0 1 0 -2.6 0M261.75 251.41a1.3 1.45 0 1 0 2.6 0a1.3 1.45 0 1 0 -2.6 0M262.35 250.94a1.3 1.45 0 1 0 2.6 0a1.3 1.45 0 1 0 -2.6 0M262.43 250.65a1.3 1.45 0 1 0 2.6 0a1.3 1.45 0 1 0 -2.6 0M263.05 250.28a1.3 1.45 0 1 0 2.6 0a1.3 1.45 0 1 0 -2.6 0M263.20 250.14a1.3 1.45 0 1 0 2.6 0a1.3 1.45 0 1 0 -2.6 0M263.44 249.94a1.3 1.45 0 1 0 2.6 0a1.3 1.45 0 1 0 -2.6 0M264.02 249.86a1.3 1.45 0 1 0 2.6 0a1.3 1.45 0 1 0 -2.6 0M264.38 249.61a1.3 1.45 0 1 0 2.6 0a1.3 1.45 0 1 0 -2.6 0M264.50 249.41a1.3 1.45 0 1 0 2.6 0a1.3 1.45 0 1 0 -2.6 0M265.11 248.84a1.3 1.45 0 1 0 2.6 0a1.3 1.45 0 1 0 -2.6 0M265.46 248.32a1.3 1.45 0 1 0 2.6 0a1.3 1.45 0 1 0 -2.6 0M265.83 248.20a1.3 1.45 0 1 0 2.6 0a1.3 1.45 0 1 0 -2.6 0M266.19 247.70a1.3 1.45 0 1 0 2.6 0a1.3 1.45 0 1 0 -2.6 0M266.29 247.81a1.3 1.45 0 1 0 2.6 0a1.3 1.45 0 1 0 -2.6 0M266.61 246.93a1.3 1.45 0 1 0 2.6 0a1.3 1.45 0 1 0 -2.6 0M267.20 246.91a1.3 1.45 0 1 0 2.6 0a1.3 1.45 0 1 0 -2.6 0M267.49 246.62a1.3 1.45 0 1 0 2.6 0a1.3 1.45 0 1 0 -2.6 0M267.72 247.02a1.3 1.45 0 1 0 2.6 0a1.3 1.45 0 1 0 -2.6 0M268.00 245.99a1.3 1.45 0 1 0 2.6 0a1.3 1.45 0 1 0 -2.6 0M268.39 245.81a1.3 1.45 0 1 0 2.6 0a1.3 1.45 0 1 0 -2.6 0M268.78 245.86a1.3 1.45 0 1 0 2.6 0a1.3 1.45 0 1 0 -2.6 0M269.11 245.52a1.3 1.45 0 1 0 2.6 0a1.3 1.45 0 1 0 -2.6 0M269.46 245.33a1.3 1.45 0 1 0 2.6 0a1.3 1.45 0 1 0 -2.6 0M269.83 245.27a1.3 1.45 0 1 0 2.6 0a1.3 1.45 0 1 0 -2.6 0M270.40 245.13a1.3 1.45 0 1 0 2.6 0a1.3 1.45 0 1 0 -2.6 0M270.63 244.37a1.3 1.45 0 1 0 2.6 0a1.3 1.45 0 1 0 -2.6 0M270.77 244.52a1.3 1.45 0 1 0 2.6 0a1.3 1.45 0 1 0 -2.6 0M271.38 243.59a1.3 1.45 0 1 0 2.6 0a1.3 1.45 0 1 0 -2.6 0M271.58 243.71a1.3 1.45 0 1 0 2.6 0a1.3 1.45 0 1 0 -2.6 0M271.89 243.73a1.3 1.45 0 1 0 2.6 0a1.3 1.45 0 1 0 -2.6 0M272.46 242.43a1.3 1.45 0 1 0 2.6 0a1.3 1.45 0 1 0 -2.6 0M272.57 242.52a1.3 1.45 0 1 0 2.6 0a1.3 1.45 0 1 0 -2.6 0M272.86 242.45a1.3 1.45 0 1 0 2.6 0a1.3 1.45 0 1 0 -2.6 0M273.55 241.56a1.3 1.45 0 1 0 2.6 0a1.3 1.45 0 1 0 -2.6 0M273.56 242.41a1.3 1.45 0 1 0 2.6 0a1.3 1.45 0 1 0 -2.6 0M274.19 241.54a1.3 1.45 0 1 0 2.6 0a1.3 1.45 0 1 0 -2.6 0M274.32 241.74a1.3 1.45 0 1 0 2.6 0a1.3 1.45 0 1 0 -2.6 0M274.90 240.99a1.3 1.45 0 1 0 2.6 0a1.3 1.45 0 1 0 -2.6 0M275.05 240.65a1.3 1.45 0 1 0 2.6 0a1.3 1.45 0 1 0 -2.6 0M275.38 240.71a1.3 1.45 0 1 0 2.6 0a1.3 1.45 0 1 0 -2.6 0M275.90 240.36a1.3 1.45 0 1 0 2.6 0a1.3 1.45 0 1 0 -2.6 0M276.23 239.95a1.3 1.45 0 1 0 2.6 0a1.3 1.45 0 1 0 -2.6 0M276.38 239.72a1.3 1.45 0 1 0 2.6 0a1.3 1.45 0 1 0 -2.6 0M276.98 239.83a1.3 1.45 0 1 0 2.6 0a1.3 1.45 0 1 0 -2.6 0M277.27 239.33a1.3 1.45 0 1 0 2.6 0a1.3 1.45 0 1 0 -2.6 0M277.54 238.68a1.3 1.45 0 1 0 2.6 0a1.3 1.45 0 1 0 -2.6 0M278.06 237.96a1.3 1.45 0 1 0 2.6 0a1.3 1.45 0 1 0 -2.6 0M278.11 238.15a1.3 1.45 0 1 0 2.6 0a1.3 1.45 0 1 0 -2.6 0M278.52 238.21a1.3 1.45 0 1 0 2.6 0a1.3 1.45 0 1 0 -2.6 0M278.97 237.14a1.3 1.45 0 1 0 2.6 0a1.3 1.45 0 1 0 -2.6 0M279.28 237.39a1.3 1.45 0 1 0 2.6 0a1.3 1.45 0 1 0 -2.6 0M279.66 237.41a1.3 1.45 0 1 0 2.6 0a1.3 1.45 0 1 0 -2.6 0M280.03 236.95a1.3 1.45 0 1 0 2.6 0a1.3 1.45 0 1 0 -2.6 0M280.42 237.17a1.3 1.45 0 1 0 2.6 0a1.3 1.45 0 1 0 -2.6 0M280.67 236.55a1.3 1.45 0 1 0 2.6 0a1.3 1.45 0 1 0 -2.6 0M281.19 235.90a1.3 1.45 0 1 0 2.6 0a1.3 1.45 0 1 0 -2.6 0M281.48 235.84a1.3 1.45 0 1 0 2.6 0a1.3 1.45 0 1 0 -2.6 0M281.75 235.81a1.3 1.45 0 1 0 2.6 0a1.3 1.45 0 1 0 -2.6 0M282.21 235.39a1.3 1.45 0 1 0 2.6 0a1.3 1.45 0 1 0 -2.6 0M282.45 235.14a1.3 1.45 0 1 0 2.6 0a1.3 1.45 0 1 0 -2.6 0M282.95 234.66a1.3 1.45 0 1 0 2.6 0a1.3 1.45 0 1 0 -2.6 0M283.10 234.36a1.3 1.45 0 1 0 2.6 0a1.3 1.45 0 1 0 -2.6 0M283.59 234.08a1.3 1.45 0 1 0 2.6 0a1.3 1.45 0 1 0 -2.6 0M283.74 234.20a1.3 1.45 0 1 0 2.6 0a1.3 1.45 0 1 0 -2.6 0M284.13 233.93a1.3 1.45 0 1 0 2.6 0a1.3 1.45 0 1 0 -2.6 0M284.45 233.17a1.3 1.45 0 1 0 2.6 0a1.3 1.45 0 1 0 -2.6 0M284.85 232.87a1.3 1.45 0 1 0 2.6 0a1.3 1.45 0 1 0 -2.6 0M285.34 232.02a1.3 1.45 0 1 0 2.6 0a1.3 1.45 0 1 0 -2.6 0M285.47 232.56a1.3 1.45 0 1 0 2.6 0a1.3 1.45 0 1 0 -2.6 0M285.92 232.38a1.3 1.45 0 1 0 2.6 0a1.3 1.45 0 1 0 -2.6 0M286.48 231.77a1.3 1.45 0 1 0 2.6 0a1.3 1.45 0 1 0 -2.6 0M286.64 232.26a1.3 1.45 0 1 0 2.6 0a1.3 1.45 0 1 0 -2.6 0M286.90 231.67a1.3 1.45 0 1 0 2.6 0a1.3 1.45 0 1 0 -2.6 0M287.26 231.41a1.3 1.45 0 1 0 2.6 0a1.3 1.45 0 1 0 -2.6 0M287.67 230.67a1.3 1.45 0 1 0 2.6 0a1.3 1.45 0 1 0 -2.6 0M288.16 230.52a1.3 1.45 0 1 0 2.6 0a1.3 1.45 0 1 0 -2.6 0M288.47 230.77a1.3 1.45 0 1 0 2.6 0a1.3 1.45 0 1 0 -2.6 0M288.74 230.13a1.3 1.45 0 1 0 2.6 0a1.3 1.45 0 1 0 -2.6 0M288.98 230.19a1.3 1.45 0 1 0 2.6 0a1.3 1.45 0 1 0 -2.6 0M289.54 229.69a1.3 1.45 0 1 0 2.6 0a1.3 1.45 0 1 0 -2.6 0M289.95 229.54a1.3 1.45 0 1 0 2.6 0a1.3 1.45 0 1 0 -2.6 0M290.24 228.78a1.3 1.45 0 1 0 2.6 0a1.3 1.45 0 1 0 -2.6 0M290.48 228.70a1.3 1.45 0 1 0 2.6 0a1.3 1.45 0 1 0 -2.6 0M290.99 227.88a1.3 1.45 0 1 0 2.6 0a1.3 1.45 0 1 0 -2.6 0M291.30 228.31a1.3 1.45 0 1 0 2.6 0a1.3 1.45 0 1 0 -2.6 0M291.61 228.44a1.3 1.45 0 1 0 2.6 0a1.3 1.45 0 1 0 -2.6 0M291.95 227.86a1.3 1.45 0 1 0 2.6 0a1.3 1.45 0 1 0 -2.6 0M292.29 227.26a1.3 1.45 0 1 0 2.6 0a1.3 1.45 0 1 0 -2.6 0M292.46 227.68a1.3 1.45 0 1 0 2.6 0a1.3 1.45 0 1 0 -2.6 0M293.02 226.51a1.3 1.45 0 1 0 2.6 0a1.3 1.45 0 1 0 -2.6 0M293.34 226.51a1.3 1.45 0 1 0 2.6 0a1.3 1.45 0 1 0 -2.6 0M293.63 225.96a1.3 1.45 0 1 0 2.6 0a1.3 1.45 0 1 0 -2.6 0M294.04 226.36a1.3 1.45 0 1 0 2.6 0a1.3 1.45 0 1 0 -2.6 0M294.50 225.36a1.3 1.45 0 1 0 2.6 0a1.3 1.45 0 1 0 -2.6 0M294.58 225.84a1.3 1.45 0 1 0 2.6 0a1.3 1.45 0 1 0 -2.6 0M295.01 225.65a1.3 1.45 0 1 0 2.6 0a1.3 1.45 0 1 0 -2.6 0M295.39 224.82a1.3 1.45 0 1 0 2.6 0a1.3 1.45 0 1 0 -2.6 0M295.76 224.63a1.3 1.45 0 1 0 2.6 0a1.3 1.45 0 1 0 -2.6 0M295.97 224.30a1.3 1.45 0 1 0 2.6 0a1.3 1.45 0 1 0 -2.6 0M296.45 224.79a1.3 1.45 0 1 0 2.6 0a1.3 1.45 0 1 0 -2.6 0M296.65 224.26a1.3 1.45 0 1 0 2.6 0a1.3 1.45 0 1 0 -2.6 0M297.22 223.64a1.3 1.45 0 1 0 2.6 0a1.3 1.45 0 1 0 -2.6 0M297.49 223.62a1.3 1.45 0 1 0 2.6 0a1.3 1.45 0 1 0 -2.6 0M297.85 223.42a1.3 1.45 0 1 0 2.6 0a1.3 1.45 0 1 0 -2.6 0M298.16 222.53a1.3 1.45 0 1 0 2.6 0a1.3 1.45 0 1 0 -2.6 0M298.60 222.45a1.3 1.45 0 1 0 2.6 0a1.3 1.45 0 1 0 -2.6 0M298.85 222.18a1.3 1.45 0 1 0 2.6 0a1.3 1.45 0 1 0 -2.6 0M299.41 221.91a1.3 1.45 0 1 0 2.6 0a1.3 1.45 0 1 0 -2.6 0M299.54 221.42a1.3 1.45 0 1 0 2.6 0a1.3 1.45 0 1 0 -2.6 0M299.90 221.28a1.3 1.45 0 1 0 2.6 0a1.3 1.45 0 1 0 -2.6 0M300.12 221.48a1.3 1.45 0 1 0 2.6 0a1.3 1.45 0 1 0 -2.6 0M300.70 220.58a1.3 1.45 0 1 0 2.6 0a1.3 1.45 0 1 0 -2.6 0M300.93 220.57a1.3 1.45 0 1 0 2.6 0a1.3 1.45 0 1 0 -2.6 0M301.42 219.95a1.3 1.45 0 1 0 2.6 0a1.3 1.45 0 1 0 -2.6 0M301.84 220.06a1.3 1.45 0 1 0 2.6 0a1.3 1.45 0 1 0 -2.6 0M302.14 219.64a1.3 1.45 0 1 0 2.6 0a1.3 1.45 0 1 0 -2.6 0M302.34 219.41a1.3 1.45 0 1 0 2.6 0a1.3 1.45 0 1 0 -2.6 0M302.83 218.91a1.3 1.45 0 1 0 2.6 0a1.3 1.45 0 1 0 -2.6 0M303.19 219.01a1.3 1.45 0 1 0 2.6 0a1.3 1.45 0 1 0 -2.6 0M303.45 218.83a1.3 1.45 0 1 0 2.6 0a1.3 1.45 0 1 0 -2.6 0M303.68 218.11a1.3 1.45 0 1 0 2.6 0a1.3 1.45 0 1 0 -2.6 0M304.18 218.07a1.3 1.45 0 1 0 2.6 0a1.3 1.45 0 1 0 -2.6 0M304.59 217.54a1.3 1.45 0 1 0 2.6 0a1.3 1.45 0 1 0 -2.6 0M304.76 217.87a1.3 1.45 0 1 0 2.6 0a1.3 1.45 0 1 0 -2.6 0M305.19 216.80a1.3 1.45 0 1 0 2.6 0a1.3 1.45 0 1 0 -2.6 0M305.48 216.57a1.3 1.45 0 1 0 2.6 0a1.3 1.45 0 1 0 -2.6 0M306.00 216.61a1.3 1.45 0 1 0 2.6 0a1.3 1.45 0 1 0 -2.6 0M306.14 216.17a1.3 1.45 0 1 0 2.6 0a1.3 1.45 0 1 0 -2.6 0M306.55 216.13a1.3 1.45 0 1 0 2.6 0a1.3 1.45 0 1 0 -2.6 0M307.00 215.77a1.3 1.45 0 1 0 2.6 0a1.3 1.45 0 1 0 -2.6 0M307.20 215.63a1.3 1.45 0 1 0 2.6 0a1.3 1.45 0 1 0 -2.6 0M307.62 215.05a1.3 1.45 0 1 0 2.6 0a1.3 1.45 0 1 0 -2.6 0M307.95 215.34a1.3 1.45 0 1 0 2.6 0a1.3 1.45 0 1 0 -2.6 0M308.27 215.13a1.3 1.45 0 1 0 2.6 0a1.3 1.45 0 1 0 -2.6 0M308.82 214.30a1.3 1.45 0 1 0 2.6 0a1.3 1.45 0 1 0 -2.6 0M309.13 214.20a1.3 1.45 0 1 0 2.6 0a1.3 1.45 0 1 0 -2.6 0M309.51 213.78a1.3 1.45 0 1 0 2.6 0a1.3 1.45 0 1 0 -2.6 0M309.83 213.73a1.3 1.45 0 1 0 2.6 0a1.3 1.45 0 1 0 -2.6 0M310.11 213.30a1.3 1.45 0 1 0 2.6 0a1.3 1.45 0 1 0 -2.6 0M310.58 212.98a1.3 1.45 0 1 0 2.6 0a1.3 1.45 0 1 0 -2.6 0M311.15 212.53a1.3 1.45 0 1 0 2.6 0a1.3 1.45 0 1 0 -2.6 0M311.57 212.00a1.3 1.45 0 1 0 2.6 0a1.3 1.45 0 1 0 -2.6 0M312.51 211.40a1.3 1.45 0 1 0 2.6 0a1.3 1.45 0 1 0 -2.6 0M313.29 211.25a1.3 1.45 0 1 0 2.6 0a1.3 1.45 0 1 0 -2.6 0M314.80 209.60a1.3 1.45 0 1 0 2.6 0a1.3 1.45 0 1 0 -2.6 0M315.64 209.26a1.3 1.45 0 1 0 2.6 0a1.3 1.45 0 1 0 -2.6 0M316.26 208.39a1.3 1.45 0 1 0 2.6 0a1.3 1.45 0 1 0 -2.6 0M317.36 208.29a1.3 1.45 0 1 0 2.6 0a1.3 1.45 0 1 0 -2.6 0M318.12 206.90a1.3 1.45 0 1 0 2.6 0a1.3 1.45 0 1 0 -2.6 0M318.90 206.69a1.3 1.45 0 1 0 2.6 0a1.3 1.45 0 1 0 -2.6 0M319.62 205.90a1.3 1.45 0 1 0 2.6 0a1.3 1.45 0 1 0 -2.6 0M320.78 205.44a1.3 1.45 0 1 0 2.6 0a1.3 1.45 0 1 0 -2.6 0M321.35 204.55a1.3 1.45 0 1 0 2.6 0a1.3 1.45 0 1 0 -2.6 0M321.85 203.80a1.3 1.45 0 1 0 2.6 0a1.3 1.45 0 1 0 -2.6 0M323.01 202.75a1.3 1.45 0 1 0 2.6 0a1.3 1.45 0 1 0 -2.6 0M323.57 202.60a1.3 1.45 0 1 0 2.6 0a1.3 1.45 0 1 0 -2.6 0M324.73 202.41a1.3 1.45 0 1 0 2.6 0a1.3 1.45 0 1 0 -2.6 0M325.90 200.94a1.3 1.45 0 1 0 2.6 0a1.3 1.45 0 1 0 -2.6 0M326.03 200.58a1.3 1.45 0 1 0 2.6 0a1.3 1.45 0 1 0 -2.6 0M327.36 200.21a1.3 1.45 0 1 0 2.6 0a1.3 1.45 0 1 0 -2.6 0M328.30 198.83a1.3 1.45 0 1 0 2.6 0a1.3 1.45 0 1 0 -2.6 0M328.95 198.91a1.3 1.45 0 1 0 2.6 0a1.3 1.45 0 1 0 -2.6 0M330.27 196.96a1.3 1.45 0 1 0 2.6 0a1.3 1.45 0 1 0 -2.6 0M330.85 196.77a1.3 1.45 0 1 0 2.6 0a1.3 1.45 0 1 0 -2.6 0M331.19 197.31a1.3 1.45 0 1 0 2.6 0a1.3 1.45 0 1 0 -2.6 0M332.82 195.94a1.3 1.45 0 1 0 2.6 0a1.3 1.45 0 1 0 -2.6 0M333.16 194.72a1.3 1.45 0 1 0 2.6 0a1.3 1.45 0 1 0 -2.6 0M334.15 194.53a1.3 1.45 0 1 0 2.6 0a1.3 1.45 0 1 0 -2.6 0M335.36 192.83a1.3 1.45 0 1 0 2.6 0a1.3 1.45 0 1 0 -2.6 0M335.98 192.88a1.3 1.45 0 1 0 2.6 0a1.3 1.45 0 1 0 -2.6 0" stroke="#0a0ad8" stroke-width="0.85" fill="none"/>
<line x1="217.98" y1="286.72" x2="346.55" y2="185.75" stroke="#e41e46" stroke-width="0.85"/>

<text x="99" y="10.9" class="lab" text-anchor="middle">(a)</text>
<text x="289.4" y="12.7" class="lab" text-anchor="middle">(b)</text>
<text x="98.6" y="171.0" class="lab" text-anchor="middle">(c)</text>
<text x="289.5" y="171.6" class="lab" text-anchor="middle">(d)</text>
<text x="39.4" y="25.4" class="lab r2">R<tspan dy="-3.9" font-size="5.2">2</tspan><tspan dy="3.9">=0.9082</tspan></text>
<text x="229.4" y="26.8" class="lab r2">R<tspan dy="-3.9" font-size="5.2">2</tspan><tspan dy="3.9">=0.9174</tspan></text>
<text x="39.0" y="185.4" class="lab r2">R<tspan dy="-3.9" font-size="5.2">2</tspan><tspan dy="3.9">=0.9627</tspan></text>
<text x="229.4" y="185.2" class="lab r2">R<tspan dy="-3.9" font-size="5.2">2</tspan><tspan dy="3.9">=0.9908</tspan></text>
<text x="99.9" y="155.7" class="lab" text-anchor="middle">Actual Dosing (mg/L)</text>
<g transform="translate(290.5 156.0) scale(1.02 1)"><text class="lab" text-anchor="middle">Actual Dosing (mg/L)</text></g>
<text x="100.4" y="311.2" class="lab" text-anchor="middle">Actual Dosing (mg/L)</text>
<g transform="translate(291.1 311.6) scale(1.03 1)"><text class="lab" text-anchor="middle">Actual Dosing (mg/L)</text></g>
<g transform="translate(6.9 69.8) rotate(-90) scale(1.10 1)"><text class="lab" text-anchor="middle">Predict Dosing (mg/L)</text></g>
<g transform="translate(196.8 71.1) rotate(-90) scale(1.13 1)"><text class="lab" text-anchor="middle">Predict Dosing (mg/L)</text></g>
<g transform="translate(6.9 228.6) rotate(-90) scale(1.066 1)"><text class="lab" text-anchor="middle">Predict Dosing (mg/L)</text></g>
<g transform="translate(196.6 229.1) rotate(-90) scale(1.12 1)"><text class="lab" text-anchor="middle">Predict Dosing (mg/L)</text></g>

</svg>
</body></html>
